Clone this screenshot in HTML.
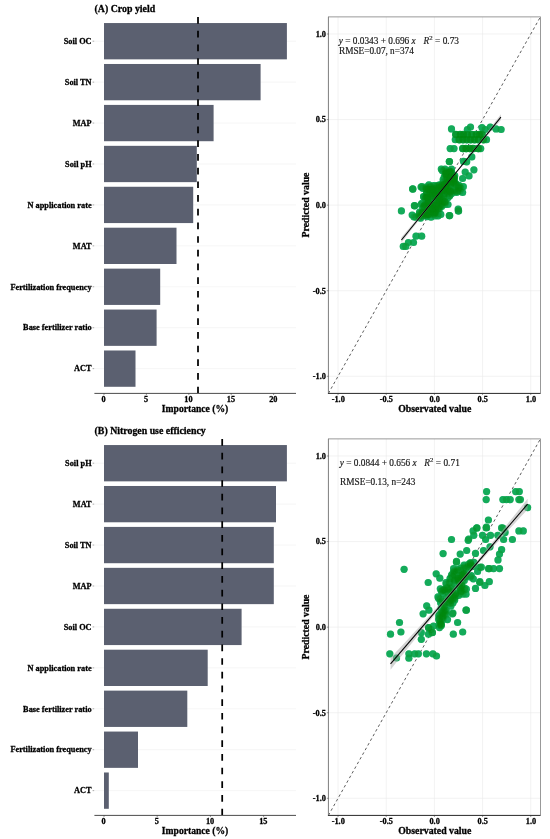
<!DOCTYPE html>
<html lang="en"><head><meta charset="utf-8"><title>Variable importance and model performance</title>
<style>html,body{margin:0;padding:0;background:#fff}svg{display:block}text{font-family:"Liberation Serif", serif}text[font-weight=bold]{stroke:#000;stroke-width:0.28px}text:not([font-weight]){stroke:#1a1a1a;stroke-width:0.18px}</style>
</head><body>
<svg width="550" height="839" viewBox="0 0 550 839" font-family='"Liberation Serif", serif' fill="#000">
<rect width="550" height="839" fill="#fff"/>
<line x1="94.4" x2="296.0" y1="41.20" y2="41.20" stroke="#f0f0f0" stroke-width="0.6"/>
<line x1="94.4" x2="296.0" y1="82.13" y2="82.13" stroke="#f0f0f0" stroke-width="0.6"/>
<line x1="94.4" x2="296.0" y1="123.06" y2="123.06" stroke="#f0f0f0" stroke-width="0.6"/>
<line x1="94.4" x2="296.0" y1="163.99" y2="163.99" stroke="#f0f0f0" stroke-width="0.6"/>
<line x1="94.4" x2="296.0" y1="204.92" y2="204.92" stroke="#f0f0f0" stroke-width="0.6"/>
<line x1="94.4" x2="296.0" y1="245.85" y2="245.85" stroke="#f0f0f0" stroke-width="0.6"/>
<line x1="94.4" x2="296.0" y1="286.78" y2="286.78" stroke="#f0f0f0" stroke-width="0.6"/>
<line x1="94.4" x2="296.0" y1="327.71" y2="327.71" stroke="#f0f0f0" stroke-width="0.6"/>
<line x1="94.4" x2="296.0" y1="368.64" y2="368.64" stroke="#f0f0f0" stroke-width="0.6"/>
<rect x="104.0" y="23.05" width="182.90" height="36.3" fill="#5b6070"/>
<line x1="92.6" x2="94.2" y1="41.20" y2="41.20" stroke="#555" stroke-width="0.5"/>
<text x="91.6" y="43.95" text-anchor="end" font-size="8.3" font-weight="bold">Soil OC</text>
<rect x="104.0" y="63.98" width="156.60" height="36.3" fill="#5b6070"/>
<line x1="92.6" x2="94.2" y1="82.13" y2="82.13" stroke="#555" stroke-width="0.5"/>
<text x="91.6" y="84.88" text-anchor="end" font-size="8.3" font-weight="bold">Soil TN</text>
<rect x="104.0" y="104.91" width="109.60" height="36.3" fill="#5b6070"/>
<line x1="92.6" x2="94.2" y1="123.06" y2="123.06" stroke="#555" stroke-width="0.5"/>
<text x="91.6" y="125.81" text-anchor="end" font-size="8.3" font-weight="bold">MAP</text>
<rect x="104.0" y="145.84" width="92.80" height="36.3" fill="#5b6070"/>
<line x1="92.6" x2="94.2" y1="163.99" y2="163.99" stroke="#555" stroke-width="0.5"/>
<text x="91.6" y="166.74" text-anchor="end" font-size="8.3" font-weight="bold">Soil pH</text>
<rect x="104.0" y="186.77" width="89.20" height="36.3" fill="#5b6070"/>
<line x1="92.6" x2="94.2" y1="204.92" y2="204.92" stroke="#555" stroke-width="0.5"/>
<text x="91.6" y="207.67" text-anchor="end" font-size="8.3" font-weight="bold">N application rate</text>
<rect x="104.0" y="227.70" width="72.50" height="36.3" fill="#5b6070"/>
<line x1="92.6" x2="94.2" y1="245.85" y2="245.85" stroke="#555" stroke-width="0.5"/>
<text x="91.6" y="248.60" text-anchor="end" font-size="8.3" font-weight="bold">MAT</text>
<rect x="104.0" y="268.63" width="56.20" height="36.3" fill="#5b6070"/>
<line x1="92.6" x2="94.2" y1="286.78" y2="286.78" stroke="#555" stroke-width="0.5"/>
<text x="91.6" y="289.53" text-anchor="end" font-size="8.3" font-weight="bold">Fertilization frequency</text>
<rect x="104.0" y="309.56" width="52.60" height="36.3" fill="#5b6070"/>
<line x1="92.6" x2="94.2" y1="327.71" y2="327.71" stroke="#555" stroke-width="0.5"/>
<text x="91.6" y="330.46" text-anchor="end" font-size="8.3" font-weight="bold">Base fertilizer ratio</text>
<rect x="104.0" y="350.49" width="31.50" height="36.3" fill="#5b6070"/>
<line x1="92.6" x2="94.2" y1="368.64" y2="368.64" stroke="#555" stroke-width="0.5"/>
<text x="91.6" y="371.39" text-anchor="end" font-size="8.3" font-weight="bold">ACT</text>
<line x1="198.0" x2="198.0" y1="17.10" y2="393.00" stroke="#000" stroke-width="1.75" stroke-dasharray="6.7 6.99"/>
<line x1="94.4" x2="296.0" y1="393.4" y2="393.4" stroke="#383838" stroke-width="0.9"/>
<line x1="104.00" x2="104.00" y1="393.4" y2="395.0" stroke="#333" stroke-width="0.5"/>
<text x="103.70" y="402.0" text-anchor="middle" font-size="8.3" font-weight="bold">0</text>
<line x1="146.40" x2="146.40" y1="393.4" y2="395.0" stroke="#333" stroke-width="0.5"/>
<text x="146.10" y="402.0" text-anchor="middle" font-size="8.3" font-weight="bold">5</text>
<line x1="188.80" x2="188.80" y1="393.4" y2="395.0" stroke="#333" stroke-width="0.5"/>
<text x="188.50" y="402.0" text-anchor="middle" font-size="8.3" font-weight="bold">10</text>
<line x1="231.20" x2="231.20" y1="393.4" y2="395.0" stroke="#333" stroke-width="0.5"/>
<text x="230.90" y="402.0" text-anchor="middle" font-size="8.3" font-weight="bold">15</text>
<line x1="273.60" x2="273.60" y1="393.4" y2="395.0" stroke="#333" stroke-width="0.5"/>
<text x="273.30" y="402.0" text-anchor="middle" font-size="8.3" font-weight="bold">20</text>
<text x="195" y="411.6" text-anchor="middle" font-size="9.6" font-weight="bold">Importance (%)</text>
<text x="94.6" y="12" font-size="9.85" font-weight="bold">(A) Crop yield</text>
<line x1="94.4" x2="296.0" y1="463.20" y2="463.20" stroke="#f0f0f0" stroke-width="0.6"/>
<line x1="94.4" x2="296.0" y1="504.13" y2="504.13" stroke="#f0f0f0" stroke-width="0.6"/>
<line x1="94.4" x2="296.0" y1="545.06" y2="545.06" stroke="#f0f0f0" stroke-width="0.6"/>
<line x1="94.4" x2="296.0" y1="585.99" y2="585.99" stroke="#f0f0f0" stroke-width="0.6"/>
<line x1="94.4" x2="296.0" y1="626.92" y2="626.92" stroke="#f0f0f0" stroke-width="0.6"/>
<line x1="94.4" x2="296.0" y1="667.85" y2="667.85" stroke="#f0f0f0" stroke-width="0.6"/>
<line x1="94.4" x2="296.0" y1="708.78" y2="708.78" stroke="#f0f0f0" stroke-width="0.6"/>
<line x1="94.4" x2="296.0" y1="749.71" y2="749.71" stroke="#f0f0f0" stroke-width="0.6"/>
<line x1="94.4" x2="296.0" y1="790.64" y2="790.64" stroke="#f0f0f0" stroke-width="0.6"/>
<rect x="104.0" y="445.05" width="182.90" height="36.3" fill="#5b6070"/>
<line x1="92.6" x2="94.2" y1="463.20" y2="463.20" stroke="#555" stroke-width="0.5"/>
<text x="91.6" y="465.95" text-anchor="end" font-size="8.3" font-weight="bold">Soil pH</text>
<rect x="104.0" y="485.98" width="172.00" height="36.3" fill="#5b6070"/>
<line x1="92.6" x2="94.2" y1="504.13" y2="504.13" stroke="#555" stroke-width="0.5"/>
<text x="91.6" y="506.88" text-anchor="end" font-size="8.3" font-weight="bold">MAT</text>
<rect x="104.0" y="526.91" width="169.80" height="36.3" fill="#5b6070"/>
<line x1="92.6" x2="94.2" y1="545.06" y2="545.06" stroke="#555" stroke-width="0.5"/>
<text x="91.6" y="547.81" text-anchor="end" font-size="8.3" font-weight="bold">Soil TN</text>
<rect x="104.0" y="567.84" width="169.80" height="36.3" fill="#5b6070"/>
<line x1="92.6" x2="94.2" y1="585.99" y2="585.99" stroke="#555" stroke-width="0.5"/>
<text x="91.6" y="588.74" text-anchor="end" font-size="8.3" font-weight="bold">MAP</text>
<rect x="104.0" y="608.77" width="137.60" height="36.3" fill="#5b6070"/>
<line x1="92.6" x2="94.2" y1="626.92" y2="626.92" stroke="#555" stroke-width="0.5"/>
<text x="91.6" y="629.67" text-anchor="end" font-size="8.3" font-weight="bold">Soil OC</text>
<rect x="104.0" y="649.70" width="103.70" height="36.3" fill="#5b6070"/>
<line x1="92.6" x2="94.2" y1="667.85" y2="667.85" stroke="#555" stroke-width="0.5"/>
<text x="91.6" y="670.60" text-anchor="end" font-size="8.3" font-weight="bold">N application rate</text>
<rect x="104.0" y="690.63" width="83.30" height="36.3" fill="#5b6070"/>
<line x1="92.6" x2="94.2" y1="708.78" y2="708.78" stroke="#555" stroke-width="0.5"/>
<text x="91.6" y="711.53" text-anchor="end" font-size="8.3" font-weight="bold">Base fertilizer ratio</text>
<rect x="104.0" y="731.56" width="34.00" height="36.3" fill="#5b6070"/>
<line x1="92.6" x2="94.2" y1="749.71" y2="749.71" stroke="#555" stroke-width="0.5"/>
<text x="91.6" y="752.46" text-anchor="end" font-size="8.3" font-weight="bold">Fertilization frequency</text>
<rect x="104.0" y="772.49" width="4.80" height="36.3" fill="#5b6070"/>
<line x1="92.6" x2="94.2" y1="790.64" y2="790.64" stroke="#555" stroke-width="0.5"/>
<text x="91.6" y="793.39" text-anchor="end" font-size="8.3" font-weight="bold">ACT</text>
<line x1="222.2" x2="222.2" y1="439.10" y2="815.00" stroke="#000" stroke-width="1.75" stroke-dasharray="6.7 6.99"/>
<line x1="94.4" x2="296.0" y1="815.4" y2="815.4" stroke="#383838" stroke-width="0.9"/>
<line x1="104.00" x2="104.00" y1="815.4" y2="817.0" stroke="#333" stroke-width="0.5"/>
<text x="103.70" y="824.0" text-anchor="middle" font-size="8.3" font-weight="bold">0</text>
<line x1="157.20" x2="157.20" y1="815.4" y2="817.0" stroke="#333" stroke-width="0.5"/>
<text x="156.90" y="824.0" text-anchor="middle" font-size="8.3" font-weight="bold">5</text>
<line x1="210.40" x2="210.40" y1="815.4" y2="817.0" stroke="#333" stroke-width="0.5"/>
<text x="210.10" y="824.0" text-anchor="middle" font-size="8.3" font-weight="bold">10</text>
<line x1="263.60" x2="263.60" y1="815.4" y2="817.0" stroke="#333" stroke-width="0.5"/>
<text x="263.30" y="824.0" text-anchor="middle" font-size="8.3" font-weight="bold">15</text>
<text x="195" y="833.6" text-anchor="middle" font-size="9.6" font-weight="bold">Importance (%)</text>
<text x="94.6" y="434.0" font-size="9.85" font-weight="bold">(B) Nitrogen use efficiency</text>
<rect x="328.4" y="16.9" width="212.0" height="376.5" fill="#fff" stroke="none"/>
<line x1="338.04" x2="338.04" y1="16.9" y2="393.4" stroke="#e9e9e9" stroke-width="0.6"/>
<line x1="328.4" x2="540.4" y1="376.29" y2="376.29" stroke="#e9e9e9" stroke-width="0.6"/>
<line x1="386.22" x2="386.22" y1="16.9" y2="393.4" stroke="#e9e9e9" stroke-width="0.6"/>
<line x1="328.4" x2="540.4" y1="290.72" y2="290.72" stroke="#e9e9e9" stroke-width="0.6"/>
<line x1="434.40" x2="434.40" y1="16.9" y2="393.4" stroke="#e9e9e9" stroke-width="0.6"/>
<line x1="328.4" x2="540.4" y1="205.15" y2="205.15" stroke="#e9e9e9" stroke-width="0.6"/>
<line x1="482.58" x2="482.58" y1="16.9" y2="393.4" stroke="#e9e9e9" stroke-width="0.6"/>
<line x1="328.4" x2="540.4" y1="119.58" y2="119.58" stroke="#e9e9e9" stroke-width="0.6"/>
<line x1="530.76" x2="530.76" y1="16.9" y2="393.4" stroke="#e9e9e9" stroke-width="0.6"/>
<line x1="328.4" x2="540.4" y1="34.01" y2="34.01" stroke="#e9e9e9" stroke-width="0.6"/>
<line x1="328.4" y1="393.4" x2="540.4" y2="16.9" stroke="#333" stroke-width="0.8" stroke-dasharray="2.7 2.65"/>
<g fill="#1eba7c">
<circle cx="451.5" cy="128.9" r="3.6"/>
<circle cx="467.4" cy="129.5" r="3.6"/>
<circle cx="470.5" cy="127.0" r="3.6"/>
<circle cx="482.0" cy="127.6" r="3.6"/>
<circle cx="485.2" cy="129.5" r="3.6"/>
<circle cx="490.3" cy="127.0" r="3.6"/>
<circle cx="496.0" cy="128.9" r="3.6"/>
<circle cx="501.1" cy="129.5" r="3.6"/>
<circle cx="455.9" cy="134.6" r="3.6"/>
<circle cx="460.4" cy="134.6" r="3.6"/>
<circle cx="463.5" cy="134.6" r="3.6"/>
<circle cx="467.4" cy="134.6" r="3.6"/>
<circle cx="471.8" cy="134.6" r="3.6"/>
<circle cx="476.3" cy="134.6" r="3.6"/>
<circle cx="479.5" cy="134.6" r="3.6"/>
<circle cx="482.0" cy="134.6" r="3.6"/>
<circle cx="455.3" cy="139.7" r="3.6"/>
<circle cx="459.1" cy="139.7" r="3.6"/>
<circle cx="462.9" cy="139.7" r="3.6"/>
<circle cx="466.7" cy="139.7" r="3.6"/>
<circle cx="470.5" cy="139.7" r="3.6"/>
<circle cx="474.4" cy="139.7" r="3.6"/>
<circle cx="478.2" cy="139.7" r="3.6"/>
<circle cx="483.3" cy="139.7" r="3.6"/>
<circle cx="486.5" cy="139.7" r="3.6"/>
<circle cx="450.2" cy="148.6" r="3.6"/>
<circle cx="454.0" cy="148.6" r="3.6"/>
<circle cx="462.9" cy="148.6" r="3.6"/>
<circle cx="466.1" cy="148.6" r="3.6"/>
<circle cx="469.9" cy="148.6" r="3.6"/>
<circle cx="473.1" cy="148.6" r="3.6"/>
<circle cx="478.2" cy="148.6" r="3.6"/>
<circle cx="480.7" cy="148.6" r="3.6"/>
<circle cx="456.2" cy="134.7" r="3.6"/>
<circle cx="455.7" cy="134.4" r="3.6"/>
<circle cx="460.7" cy="134.7" r="3.6"/>
<circle cx="460.2" cy="134.4" r="3.6"/>
<circle cx="463.8" cy="134.7" r="3.6"/>
<circle cx="463.3" cy="134.4" r="3.6"/>
<circle cx="467.7" cy="134.7" r="3.6"/>
<circle cx="467.2" cy="134.4" r="3.6"/>
<circle cx="472.1" cy="134.7" r="3.6"/>
<circle cx="471.6" cy="134.4" r="3.6"/>
<circle cx="476.6" cy="134.7" r="3.6"/>
<circle cx="476.1" cy="134.4" r="3.6"/>
<circle cx="479.8" cy="134.7" r="3.6"/>
<circle cx="479.3" cy="134.4" r="3.6"/>
<circle cx="482.3" cy="134.7" r="3.6"/>
<circle cx="481.8" cy="134.4" r="3.6"/>
<circle cx="459.4" cy="139.8" r="3.6"/>
<circle cx="458.9" cy="139.5" r="3.6"/>
<circle cx="463.2" cy="139.8" r="3.6"/>
<circle cx="462.7" cy="139.5" r="3.6"/>
<circle cx="467.0" cy="139.8" r="3.6"/>
<circle cx="466.5" cy="139.5" r="3.6"/>
<circle cx="470.8" cy="139.8" r="3.6"/>
<circle cx="470.3" cy="139.5" r="3.6"/>
<circle cx="474.7" cy="139.8" r="3.6"/>
<circle cx="474.2" cy="139.5" r="3.6"/>
<circle cx="478.5" cy="139.8" r="3.6"/>
<circle cx="478.0" cy="139.5" r="3.6"/>
<circle cx="483.6" cy="139.8" r="3.6"/>
<circle cx="483.1" cy="139.5" r="3.6"/>
<circle cx="463.2" cy="148.7" r="3.6"/>
<circle cx="462.7" cy="148.4" r="3.6"/>
<circle cx="466.4" cy="148.7" r="3.6"/>
<circle cx="465.9" cy="148.4" r="3.6"/>
<circle cx="470.2" cy="148.7" r="3.6"/>
<circle cx="469.7" cy="148.4" r="3.6"/>
<circle cx="473.4" cy="148.7" r="3.6"/>
<circle cx="472.9" cy="148.4" r="3.6"/>
<circle cx="478.5" cy="148.7" r="3.6"/>
<circle cx="478.0" cy="148.4" r="3.6"/>
<circle cx="471.8" cy="156.9" r="3.6"/>
<circle cx="449.5" cy="161.6" r="3.6"/>
<circle cx="463.5" cy="161.4" r="3.6"/>
<circle cx="466.7" cy="161.8" r="3.6"/>
<circle cx="441.3" cy="169.0" r="3.6"/>
<circle cx="445.0" cy="169.0" r="3.6"/>
<circle cx="451.5" cy="169.0" r="3.6"/>
<circle cx="473.9" cy="169.8" r="3.6"/>
<circle cx="469.0" cy="175.9" r="3.6"/>
<circle cx="462.6" cy="178.5" r="3.6"/>
<circle cx="465.2" cy="172.1" r="3.6"/>
<circle cx="463.3" cy="186.7" r="3.6"/>
<circle cx="462.6" cy="192.5" r="3.6"/>
<circle cx="458.2" cy="209.0" r="3.6"/>
<circle cx="401.4" cy="210.9" r="3.6"/>
<circle cx="412.8" cy="189.2" r="3.6"/>
<circle cx="414.7" cy="205.8" r="3.6"/>
<circle cx="412.2" cy="215.0" r="3.6"/>
<circle cx="421.1" cy="187.0" r="3.6"/>
<circle cx="449.7" cy="215.6" r="3.6"/>
<circle cx="458.3" cy="210.9" r="3.6"/>
<circle cx="440.8" cy="214.4" r="3.6"/>
<circle cx="423.6" cy="196.5" r="3.6"/>
<circle cx="414.0" cy="217.0" r="3.6"/>
<circle cx="420.5" cy="218.2" r="3.6"/>
<circle cx="416.0" cy="236.2" r="3.6"/>
<circle cx="421.7" cy="236.2" r="3.6"/>
<circle cx="408.4" cy="242.5" r="3.6"/>
<circle cx="413.5" cy="242.5" r="3.6"/>
<circle cx="403.3" cy="246.4" r="3.6"/>
<circle cx="405.8" cy="246.4" r="3.6"/>
<circle cx="421.9" cy="186.7" r="3.6"/>
<circle cx="428.9" cy="184.8" r="3.6"/>
<circle cx="423.8" cy="196.9" r="3.6"/>
<circle cx="427.6" cy="198.2" r="3.6"/>
<circle cx="421.9" cy="203.3" r="3.6"/>
<circle cx="416.0" cy="217.2" r="3.6"/>
<circle cx="419.0" cy="217.2" r="3.6"/>
<circle cx="423.0" cy="216.0" r="3.6"/>
<circle cx="427.0" cy="216.6" r="3.6"/>
<circle cx="431.0" cy="217.2" r="3.6"/>
<circle cx="435.0" cy="216.0" r="3.6"/>
<circle cx="438.0" cy="216.0" r="3.6"/>
<circle cx="421.0" cy="204.5" r="3.6"/>
<circle cx="425.0" cy="204.5" r="3.6"/>
<circle cx="429.0" cy="204.5" r="3.6"/>
<circle cx="433.0" cy="204.5" r="3.6"/>
<circle cx="437.0" cy="204.5" r="3.6"/>
<circle cx="441.0" cy="204.5" r="3.6"/>
<circle cx="445.0" cy="204.5" r="3.6"/>
<circle cx="448.0" cy="204.5" r="3.6"/>
<circle cx="446.0" cy="173.4" r="3.6"/>
<circle cx="440.7" cy="187.0" r="3.6"/>
<circle cx="435.6" cy="208.4" r="3.6"/>
<circle cx="442.6" cy="188.4" r="3.6"/>
<circle cx="455.6" cy="183.4" r="3.6"/>
<circle cx="430.3" cy="207.9" r="3.6"/>
<circle cx="445.5" cy="187.3" r="3.6"/>
<circle cx="447.4" cy="189.8" r="3.6"/>
<circle cx="430.5" cy="197.2" r="3.6"/>
<circle cx="427.3" cy="196.7" r="3.6"/>
<circle cx="449.7" cy="183.4" r="3.6"/>
<circle cx="435.3" cy="205.1" r="3.6"/>
<circle cx="456.4" cy="184.6" r="3.6"/>
<circle cx="448.1" cy="197.6" r="3.6"/>
<circle cx="442.8" cy="191.2" r="3.6"/>
<circle cx="437.9" cy="200.8" r="3.6"/>
<circle cx="453.9" cy="183.2" r="3.6"/>
<circle cx="433.8" cy="201.0" r="3.6"/>
<circle cx="434.1" cy="210.4" r="3.6"/>
<circle cx="428.9" cy="189.3" r="3.6"/>
<circle cx="432.6" cy="211.0" r="3.6"/>
<circle cx="426.8" cy="192.5" r="3.6"/>
<circle cx="443.2" cy="182.2" r="3.6"/>
<circle cx="433.1" cy="196.3" r="3.6"/>
<circle cx="439.8" cy="198.7" r="3.6"/>
<circle cx="447.2" cy="172.5" r="3.6"/>
<circle cx="434.1" cy="188.5" r="3.6"/>
<circle cx="444.3" cy="176.9" r="3.6"/>
<circle cx="437.5" cy="192.5" r="3.6"/>
<circle cx="454.2" cy="177.5" r="3.6"/>
<circle cx="428.1" cy="187.0" r="3.6"/>
<circle cx="423.8" cy="205.8" r="3.6"/>
<circle cx="440.6" cy="206.1" r="3.6"/>
<circle cx="426.5" cy="194.0" r="3.6"/>
<circle cx="428.0" cy="202.1" r="3.6"/>
<circle cx="460.1" cy="190.8" r="3.6"/>
<circle cx="460.1" cy="186.9" r="3.6"/>
<circle cx="454.8" cy="192.2" r="3.6"/>
<circle cx="450.6" cy="192.2" r="3.6"/>
<circle cx="424.3" cy="206.6" r="3.6"/>
<circle cx="431.4" cy="207.1" r="3.6"/>
<circle cx="460.8" cy="188.4" r="3.6"/>
<circle cx="434.5" cy="213.9" r="3.6"/>
<circle cx="449.4" cy="177.9" r="3.6"/>
<circle cx="422.8" cy="208.3" r="3.6"/>
<circle cx="432.2" cy="195.5" r="3.6"/>
<circle cx="436.0" cy="210.4" r="3.6"/>
<circle cx="454.1" cy="179.8" r="3.6"/>
<circle cx="427.1" cy="197.2" r="3.6"/>
<circle cx="428.0" cy="189.4" r="3.6"/>
<circle cx="422.1" cy="212.2" r="3.6"/>
<circle cx="432.4" cy="191.3" r="3.6"/>
<circle cx="435.4" cy="212.6" r="3.6"/>
<circle cx="439.2" cy="194.7" r="3.6"/>
<circle cx="449.5" cy="195.8" r="3.6"/>
<circle cx="431.1" cy="194.1" r="3.6"/>
<circle cx="441.6" cy="206.4" r="3.6"/>
<circle cx="451.6" cy="193.6" r="3.6"/>
<circle cx="441.9" cy="205.3" r="3.6"/>
<circle cx="458.1" cy="190.6" r="3.6"/>
<circle cx="444.3" cy="193.5" r="3.6"/>
<circle cx="439.7" cy="202.1" r="3.6"/>
<circle cx="436.9" cy="194.7" r="3.6"/>
<circle cx="438.1" cy="213.7" r="3.6"/>
<circle cx="446.5" cy="176.6" r="3.6"/>
<circle cx="426.2" cy="214.2" r="3.6"/>
<circle cx="434.4" cy="192.6" r="3.6"/>
<circle cx="439.8" cy="185.7" r="3.6"/>
<circle cx="449.3" cy="170.9" r="3.6"/>
<circle cx="441.6" cy="190.4" r="3.6"/>
<circle cx="444.8" cy="193.8" r="3.6"/>
<circle cx="419.0" cy="215.7" r="3.6"/>
<circle cx="435.5" cy="212.3" r="3.6"/>
<circle cx="453.8" cy="182.0" r="3.6"/>
<circle cx="422.9" cy="212.6" r="3.6"/>
<circle cx="442.3" cy="202.5" r="3.6"/>
<circle cx="447.8" cy="189.7" r="3.6"/>
<circle cx="419.4" cy="213.5" r="3.6"/>
<circle cx="437.0" cy="185.7" r="3.6"/>
<circle cx="451.0" cy="183.5" r="3.6"/>
<circle cx="449.8" cy="195.6" r="3.6"/>
<circle cx="453.8" cy="190.1" r="3.6"/>
<circle cx="438.9" cy="208.7" r="3.6"/>
<circle cx="434.2" cy="193.5" r="3.6"/>
<circle cx="431.8" cy="208.6" r="3.6"/>
<circle cx="434.7" cy="186.1" r="3.6"/>
<circle cx="429.6" cy="191.3" r="3.6"/>
<circle cx="428.2" cy="214.6" r="3.6"/>
<circle cx="427.3" cy="214.8" r="3.6"/>
<circle cx="430.3" cy="186.6" r="3.6"/>
<circle cx="437.9" cy="193.3" r="3.6"/>
<circle cx="443.0" cy="194.6" r="3.6"/>
<circle cx="439.3" cy="208.7" r="3.6"/>
<circle cx="441.8" cy="199.1" r="3.6"/>
<circle cx="444.9" cy="201.6" r="3.6"/>
<circle cx="439.2" cy="194.8" r="3.6"/>
<circle cx="446.4" cy="173.1" r="3.6"/>
<circle cx="450.0" cy="181.7" r="3.6"/>
<circle cx="449.7" cy="179.5" r="3.6"/>
<circle cx="438.8" cy="187.8" r="3.6"/>
<circle cx="438.1" cy="201.7" r="3.6"/>
<circle cx="445.7" cy="173.6" r="3.6"/>
<circle cx="450.3" cy="184.1" r="3.6"/>
<circle cx="442.2" cy="170.6" r="3.6"/>
<circle cx="447.2" cy="183.5" r="3.6"/>
<circle cx="439.9" cy="191.6" r="3.6"/>
<circle cx="425.7" cy="213.9" r="3.6"/>
<circle cx="425.8" cy="197.0" r="3.6"/>
<circle cx="426.7" cy="211.6" r="3.6"/>
<circle cx="430.6" cy="209.0" r="3.6"/>
<circle cx="433.2" cy="188.2" r="3.6"/>
<circle cx="432.7" cy="189.9" r="3.6"/>
<circle cx="429.2" cy="213.4" r="3.6"/>
<circle cx="433.3" cy="214.3" r="3.6"/>
<circle cx="449.2" cy="172.3" r="3.6"/>
<circle cx="449.8" cy="190.9" r="3.6"/>
<circle cx="437.8" cy="186.0" r="3.6"/>
<circle cx="429.8" cy="204.3" r="3.6"/>
<circle cx="446.3" cy="184.0" r="3.6"/>
<circle cx="441.7" cy="188.3" r="3.6"/>
<circle cx="425.6" cy="212.0" r="3.6"/>
<circle cx="450.6" cy="189.2" r="3.6"/>
<circle cx="435.1" cy="194.3" r="3.6"/>
<circle cx="433.4" cy="185.7" r="3.6"/>
<circle cx="439.2" cy="199.2" r="3.6"/>
<circle cx="434.5" cy="190.7" r="3.6"/>
<circle cx="457.3" cy="192.0" r="3.6"/>
<circle cx="434.1" cy="213.0" r="3.6"/>
<circle cx="440.1" cy="201.6" r="3.6"/>
<circle cx="437.1" cy="195.6" r="3.6"/>
<circle cx="426.8" cy="212.7" r="3.6"/>
<circle cx="445.8" cy="184.1" r="3.6"/>
<circle cx="445.4" cy="202.4" r="3.6"/>
<circle cx="440.2" cy="197.0" r="3.6"/>
<circle cx="443.7" cy="170.5" r="3.6"/>
<circle cx="429.9" cy="191.4" r="3.6"/>
<circle cx="456.8" cy="192.1" r="3.6"/>
<circle cx="439.0" cy="201.3" r="3.6"/>
<circle cx="431.6" cy="189.5" r="3.6"/>
<circle cx="447.5" cy="179.2" r="3.6"/>
<circle cx="453.8" cy="180.7" r="3.6"/>
<circle cx="426.3" cy="205.3" r="3.6"/>
<circle cx="429.6" cy="214.2" r="3.6"/>
<circle cx="426.3" cy="189.4" r="3.6"/>
<circle cx="422.8" cy="188.3" r="3.6"/>
<circle cx="425.9" cy="215.2" r="3.6"/>
<circle cx="459.0" cy="185.3" r="3.6"/>
<circle cx="424.6" cy="213.4" r="3.6"/>
<circle cx="450.4" cy="171.5" r="3.6"/>
<circle cx="446.7" cy="187.6" r="3.6"/>
<circle cx="432.5" cy="208.1" r="3.6"/>
<circle cx="453.9" cy="190.1" r="3.6"/>
<circle cx="433.2" cy="212.7" r="3.6"/>
<circle cx="435.0" cy="207.7" r="3.6"/>
<circle cx="451.4" cy="171.9" r="3.6"/>
<circle cx="428.1" cy="203.2" r="3.6"/>
<circle cx="426.8" cy="192.1" r="3.6"/>
<circle cx="435.9" cy="192.9" r="3.6"/>
<circle cx="444.0" cy="185.2" r="3.6"/>
<circle cx="430.8" cy="186.8" r="3.6"/>
<circle cx="452.1" cy="173.7" r="3.6"/>
<circle cx="425.1" cy="204.9" r="3.6"/>
<circle cx="448.8" cy="190.7" r="3.6"/>
<circle cx="426.8" cy="189.3" r="3.6"/>
<circle cx="444.6" cy="201.3" r="3.6"/>
<circle cx="446.7" cy="175.6" r="3.6"/>
<circle cx="454.8" cy="183.6" r="3.6"/>
<circle cx="442.2" cy="187.3" r="3.6"/>
<circle cx="450.1" cy="179.3" r="3.6"/>
<circle cx="423.1" cy="211.0" r="3.6"/>
<circle cx="442.7" cy="185.2" r="3.6"/>
<circle cx="437.9" cy="208.0" r="3.6"/>
<circle cx="458.9" cy="187.3" r="3.6"/>
<circle cx="456.0" cy="190.8" r="3.6"/>
<circle cx="428.0" cy="206.1" r="3.6"/>
<circle cx="443.5" cy="198.8" r="3.6"/>
<circle cx="426.1" cy="187.1" r="3.6"/>
<circle cx="427.8" cy="197.8" r="3.6"/>
<circle cx="446.1" cy="179.5" r="3.6"/>
<circle cx="447.3" cy="178.6" r="3.6"/>
<circle cx="434.3" cy="195.5" r="3.6"/>
<circle cx="445.5" cy="174.2" r="3.6"/>
<circle cx="430.2" cy="214.2" r="3.6"/>
<circle cx="430.4" cy="196.3" r="3.6"/>
<circle cx="432.5" cy="189.3" r="3.6"/>
<circle cx="449.6" cy="179.5" r="3.6"/>
<circle cx="435.6" cy="208.1" r="3.6"/>
<circle cx="434.8" cy="211.0" r="3.6"/>
<circle cx="433.1" cy="193.4" r="3.6"/>
<circle cx="458.7" cy="188.0" r="3.6"/>
<circle cx="454.0" cy="177.5" r="3.6"/>
<circle cx="452.3" cy="180.3" r="3.6"/>
<circle cx="434.7" cy="209.3" r="3.6"/>
<circle cx="454.3" cy="178.5" r="3.6"/>
<circle cx="426.1" cy="188.6" r="3.6"/>
<circle cx="439.9" cy="187.8" r="3.6"/>
<circle cx="451.0" cy="171.8" r="3.6"/>
<circle cx="454.7" cy="175.5" r="3.6"/>
<circle cx="443.7" cy="195.5" r="3.6"/>
<circle cx="444.9" cy="184.2" r="3.6"/>
<circle cx="435.4" cy="197.0" r="3.6"/>
<circle cx="435.7" cy="200.6" r="3.6"/>
<circle cx="436.6" cy="190.3" r="3.6"/>
<circle cx="445.4" cy="173.8" r="3.6"/>
<circle cx="439.3" cy="187.5" r="3.6"/>
<circle cx="425.0" cy="215.5" r="3.6"/>
<circle cx="450.9" cy="177.4" r="3.6"/>
<circle cx="453.6" cy="176.7" r="3.6"/>
<circle cx="439.4" cy="184.8" r="3.6"/>
<circle cx="423.5" cy="213.4" r="3.6"/>
<circle cx="423.8" cy="206.4" r="3.6"/>
<circle cx="445.4" cy="186.7" r="3.6"/>
<circle cx="420.9" cy="216.1" r="3.6"/>
<circle cx="445.1" cy="188.3" r="3.6"/>
<circle cx="452.8" cy="182.3" r="3.6"/>
<circle cx="432.7" cy="205.5" r="3.6"/>
<circle cx="450.3" cy="172.3" r="3.6"/>
<circle cx="453.8" cy="181.8" r="3.6"/>
<circle cx="443.0" cy="200.8" r="3.6"/>
<circle cx="444.4" cy="190.1" r="3.6"/>
<circle cx="446.1" cy="171.1" r="3.6"/>
<circle cx="426.4" cy="197.1" r="3.6"/>
<circle cx="443.2" cy="179.5" r="3.6"/>
<circle cx="444.8" cy="192.0" r="3.6"/>
<circle cx="422.3" cy="213.4" r="3.6"/>
<circle cx="442.0" cy="186.3" r="3.6"/>
<circle cx="445.8" cy="190.6" r="3.6"/>
<circle cx="427.5" cy="211.9" r="3.6"/>
<circle cx="425.2" cy="198.2" r="3.6"/>
<circle cx="439.4" cy="199.8" r="3.6"/>
<circle cx="453.5" cy="178.1" r="3.6"/>
<circle cx="450.4" cy="191.6" r="3.6"/>
<circle cx="450.2" cy="191.0" r="3.6"/>
<circle cx="431.5" cy="204.8" r="3.6"/>
<circle cx="448.8" cy="182.4" r="3.6"/>
<circle cx="441.6" cy="190.2" r="3.6"/>
<circle cx="428.3" cy="199.8" r="3.6"/>
<circle cx="450.4" cy="185.2" r="3.6"/>
<circle cx="456.6" cy="185.3" r="3.6"/>
<circle cx="427.1" cy="212.1" r="3.6"/>
<circle cx="445.1" cy="202.1" r="3.6"/>
<circle cx="437.7" cy="209.0" r="3.6"/>
<circle cx="436.2" cy="203.6" r="3.6"/>
<circle cx="442.3" cy="184.3" r="3.6"/>
<circle cx="425.8" cy="198.9" r="3.6"/>
<circle cx="419.6" cy="212.2" r="3.6"/>
<circle cx="421.0" cy="213.1" r="3.6"/>
<circle cx="432.8" cy="207.9" r="3.6"/>
<circle cx="445.2" cy="183.3" r="3.6"/>
<circle cx="450.9" cy="179.5" r="3.6"/>
<circle cx="430.8" cy="189.7" r="3.6"/>
<circle cx="429.1" cy="203.2" r="3.6"/>
<circle cx="436.2" cy="205.9" r="3.6"/>
<circle cx="432.0" cy="202.7" r="3.6"/>
<circle cx="453.8" cy="177.9" r="3.6"/>
<circle cx="438.7" cy="207.0" r="3.6"/>
<circle cx="432.1" cy="208.6" r="3.6"/>
<circle cx="428.1" cy="213.8" r="3.6"/>
<circle cx="448.3" cy="193.1" r="3.6"/>
<circle cx="445.0" cy="186.5" r="3.6"/>
<circle cx="412.7" cy="188.8" r="3.6"/>
<circle cx="414.4" cy="205.7" r="3.6"/>
<circle cx="458.6" cy="210.9" r="3.6"/>
<circle cx="449.3" cy="215.6" r="3.6"/>
<circle cx="449.3" cy="161.5" r="3.6"/>
</g>
<g fill="#00880c" fill-opacity="0.3">
<circle cx="451.5" cy="128.9" r="3.6"/>
<circle cx="467.4" cy="129.5" r="3.6"/>
<circle cx="470.5" cy="127.0" r="3.6"/>
<circle cx="482.0" cy="127.6" r="3.6"/>
<circle cx="485.2" cy="129.5" r="3.6"/>
<circle cx="490.3" cy="127.0" r="3.6"/>
<circle cx="496.0" cy="128.9" r="3.6"/>
<circle cx="501.1" cy="129.5" r="3.6"/>
<circle cx="455.9" cy="134.6" r="3.6"/>
<circle cx="460.4" cy="134.6" r="3.6"/>
<circle cx="463.5" cy="134.6" r="3.6"/>
<circle cx="467.4" cy="134.6" r="3.6"/>
<circle cx="471.8" cy="134.6" r="3.6"/>
<circle cx="476.3" cy="134.6" r="3.6"/>
<circle cx="479.5" cy="134.6" r="3.6"/>
<circle cx="482.0" cy="134.6" r="3.6"/>
<circle cx="455.3" cy="139.7" r="3.6"/>
<circle cx="459.1" cy="139.7" r="3.6"/>
<circle cx="462.9" cy="139.7" r="3.6"/>
<circle cx="466.7" cy="139.7" r="3.6"/>
<circle cx="470.5" cy="139.7" r="3.6"/>
<circle cx="474.4" cy="139.7" r="3.6"/>
<circle cx="478.2" cy="139.7" r="3.6"/>
<circle cx="483.3" cy="139.7" r="3.6"/>
<circle cx="486.5" cy="139.7" r="3.6"/>
<circle cx="450.2" cy="148.6" r="3.6"/>
<circle cx="454.0" cy="148.6" r="3.6"/>
<circle cx="462.9" cy="148.6" r="3.6"/>
<circle cx="466.1" cy="148.6" r="3.6"/>
<circle cx="469.9" cy="148.6" r="3.6"/>
<circle cx="473.1" cy="148.6" r="3.6"/>
<circle cx="478.2" cy="148.6" r="3.6"/>
<circle cx="480.7" cy="148.6" r="3.6"/>
<circle cx="456.2" cy="134.7" r="3.6"/>
<circle cx="455.7" cy="134.4" r="3.6"/>
<circle cx="460.7" cy="134.7" r="3.6"/>
<circle cx="460.2" cy="134.4" r="3.6"/>
<circle cx="463.8" cy="134.7" r="3.6"/>
<circle cx="463.3" cy="134.4" r="3.6"/>
<circle cx="467.7" cy="134.7" r="3.6"/>
<circle cx="467.2" cy="134.4" r="3.6"/>
<circle cx="472.1" cy="134.7" r="3.6"/>
<circle cx="471.6" cy="134.4" r="3.6"/>
<circle cx="476.6" cy="134.7" r="3.6"/>
<circle cx="476.1" cy="134.4" r="3.6"/>
<circle cx="479.8" cy="134.7" r="3.6"/>
<circle cx="479.3" cy="134.4" r="3.6"/>
<circle cx="482.3" cy="134.7" r="3.6"/>
<circle cx="481.8" cy="134.4" r="3.6"/>
<circle cx="459.4" cy="139.8" r="3.6"/>
<circle cx="458.9" cy="139.5" r="3.6"/>
<circle cx="463.2" cy="139.8" r="3.6"/>
<circle cx="462.7" cy="139.5" r="3.6"/>
<circle cx="467.0" cy="139.8" r="3.6"/>
<circle cx="466.5" cy="139.5" r="3.6"/>
<circle cx="470.8" cy="139.8" r="3.6"/>
<circle cx="470.3" cy="139.5" r="3.6"/>
<circle cx="474.7" cy="139.8" r="3.6"/>
<circle cx="474.2" cy="139.5" r="3.6"/>
<circle cx="478.5" cy="139.8" r="3.6"/>
<circle cx="478.0" cy="139.5" r="3.6"/>
<circle cx="483.6" cy="139.8" r="3.6"/>
<circle cx="483.1" cy="139.5" r="3.6"/>
<circle cx="463.2" cy="148.7" r="3.6"/>
<circle cx="462.7" cy="148.4" r="3.6"/>
<circle cx="466.4" cy="148.7" r="3.6"/>
<circle cx="465.9" cy="148.4" r="3.6"/>
<circle cx="470.2" cy="148.7" r="3.6"/>
<circle cx="469.7" cy="148.4" r="3.6"/>
<circle cx="473.4" cy="148.7" r="3.6"/>
<circle cx="472.9" cy="148.4" r="3.6"/>
<circle cx="478.5" cy="148.7" r="3.6"/>
<circle cx="478.0" cy="148.4" r="3.6"/>
<circle cx="471.8" cy="156.9" r="3.6"/>
<circle cx="449.5" cy="161.6" r="3.6"/>
<circle cx="463.5" cy="161.4" r="3.6"/>
<circle cx="466.7" cy="161.8" r="3.6"/>
<circle cx="441.3" cy="169.0" r="3.6"/>
<circle cx="445.0" cy="169.0" r="3.6"/>
<circle cx="451.5" cy="169.0" r="3.6"/>
<circle cx="473.9" cy="169.8" r="3.6"/>
<circle cx="469.0" cy="175.9" r="3.6"/>
<circle cx="462.6" cy="178.5" r="3.6"/>
<circle cx="465.2" cy="172.1" r="3.6"/>
<circle cx="463.3" cy="186.7" r="3.6"/>
<circle cx="462.6" cy="192.5" r="3.6"/>
<circle cx="458.2" cy="209.0" r="3.6"/>
<circle cx="401.4" cy="210.9" r="3.6"/>
<circle cx="412.8" cy="189.2" r="3.6"/>
<circle cx="414.7" cy="205.8" r="3.6"/>
<circle cx="412.2" cy="215.0" r="3.6"/>
<circle cx="421.1" cy="187.0" r="3.6"/>
<circle cx="449.7" cy="215.6" r="3.6"/>
<circle cx="458.3" cy="210.9" r="3.6"/>
<circle cx="440.8" cy="214.4" r="3.6"/>
<circle cx="423.6" cy="196.5" r="3.6"/>
<circle cx="414.0" cy="217.0" r="3.6"/>
<circle cx="420.5" cy="218.2" r="3.6"/>
<circle cx="416.0" cy="236.2" r="3.6"/>
<circle cx="421.7" cy="236.2" r="3.6"/>
<circle cx="408.4" cy="242.5" r="3.6"/>
<circle cx="413.5" cy="242.5" r="3.6"/>
<circle cx="403.3" cy="246.4" r="3.6"/>
<circle cx="405.8" cy="246.4" r="3.6"/>
<circle cx="421.9" cy="186.7" r="3.6"/>
<circle cx="428.9" cy="184.8" r="3.6"/>
<circle cx="423.8" cy="196.9" r="3.6"/>
<circle cx="427.6" cy="198.2" r="3.6"/>
<circle cx="421.9" cy="203.3" r="3.6"/>
<circle cx="416.0" cy="217.2" r="3.6"/>
<circle cx="419.0" cy="217.2" r="3.6"/>
<circle cx="423.0" cy="216.0" r="3.6"/>
<circle cx="427.0" cy="216.6" r="3.6"/>
<circle cx="431.0" cy="217.2" r="3.6"/>
<circle cx="435.0" cy="216.0" r="3.6"/>
<circle cx="438.0" cy="216.0" r="3.6"/>
<circle cx="421.0" cy="204.5" r="3.6"/>
<circle cx="425.0" cy="204.5" r="3.6"/>
<circle cx="429.0" cy="204.5" r="3.6"/>
<circle cx="433.0" cy="204.5" r="3.6"/>
<circle cx="437.0" cy="204.5" r="3.6"/>
<circle cx="441.0" cy="204.5" r="3.6"/>
<circle cx="445.0" cy="204.5" r="3.6"/>
<circle cx="448.0" cy="204.5" r="3.6"/>
<circle cx="446.0" cy="173.4" r="3.6"/>
<circle cx="440.7" cy="187.0" r="3.6"/>
<circle cx="435.6" cy="208.4" r="3.6"/>
<circle cx="442.6" cy="188.4" r="3.6"/>
<circle cx="455.6" cy="183.4" r="3.6"/>
<circle cx="430.3" cy="207.9" r="3.6"/>
<circle cx="445.5" cy="187.3" r="3.6"/>
<circle cx="447.4" cy="189.8" r="3.6"/>
<circle cx="430.5" cy="197.2" r="3.6"/>
<circle cx="427.3" cy="196.7" r="3.6"/>
<circle cx="449.7" cy="183.4" r="3.6"/>
<circle cx="435.3" cy="205.1" r="3.6"/>
<circle cx="456.4" cy="184.6" r="3.6"/>
<circle cx="448.1" cy="197.6" r="3.6"/>
<circle cx="442.8" cy="191.2" r="3.6"/>
<circle cx="437.9" cy="200.8" r="3.6"/>
<circle cx="453.9" cy="183.2" r="3.6"/>
<circle cx="433.8" cy="201.0" r="3.6"/>
<circle cx="434.1" cy="210.4" r="3.6"/>
<circle cx="428.9" cy="189.3" r="3.6"/>
<circle cx="432.6" cy="211.0" r="3.6"/>
<circle cx="426.8" cy="192.5" r="3.6"/>
<circle cx="443.2" cy="182.2" r="3.6"/>
<circle cx="433.1" cy="196.3" r="3.6"/>
<circle cx="439.8" cy="198.7" r="3.6"/>
<circle cx="447.2" cy="172.5" r="3.6"/>
<circle cx="434.1" cy="188.5" r="3.6"/>
<circle cx="444.3" cy="176.9" r="3.6"/>
<circle cx="437.5" cy="192.5" r="3.6"/>
<circle cx="454.2" cy="177.5" r="3.6"/>
<circle cx="428.1" cy="187.0" r="3.6"/>
<circle cx="423.8" cy="205.8" r="3.6"/>
<circle cx="440.6" cy="206.1" r="3.6"/>
<circle cx="426.5" cy="194.0" r="3.6"/>
<circle cx="428.0" cy="202.1" r="3.6"/>
<circle cx="460.1" cy="190.8" r="3.6"/>
<circle cx="460.1" cy="186.9" r="3.6"/>
<circle cx="454.8" cy="192.2" r="3.6"/>
<circle cx="450.6" cy="192.2" r="3.6"/>
<circle cx="424.3" cy="206.6" r="3.6"/>
<circle cx="431.4" cy="207.1" r="3.6"/>
<circle cx="460.8" cy="188.4" r="3.6"/>
<circle cx="434.5" cy="213.9" r="3.6"/>
<circle cx="449.4" cy="177.9" r="3.6"/>
<circle cx="422.8" cy="208.3" r="3.6"/>
<circle cx="432.2" cy="195.5" r="3.6"/>
<circle cx="436.0" cy="210.4" r="3.6"/>
<circle cx="454.1" cy="179.8" r="3.6"/>
<circle cx="427.1" cy="197.2" r="3.6"/>
<circle cx="428.0" cy="189.4" r="3.6"/>
<circle cx="422.1" cy="212.2" r="3.6"/>
<circle cx="432.4" cy="191.3" r="3.6"/>
<circle cx="435.4" cy="212.6" r="3.6"/>
<circle cx="439.2" cy="194.7" r="3.6"/>
<circle cx="449.5" cy="195.8" r="3.6"/>
<circle cx="431.1" cy="194.1" r="3.6"/>
<circle cx="441.6" cy="206.4" r="3.6"/>
<circle cx="451.6" cy="193.6" r="3.6"/>
<circle cx="441.9" cy="205.3" r="3.6"/>
<circle cx="458.1" cy="190.6" r="3.6"/>
<circle cx="444.3" cy="193.5" r="3.6"/>
<circle cx="439.7" cy="202.1" r="3.6"/>
<circle cx="436.9" cy="194.7" r="3.6"/>
<circle cx="438.1" cy="213.7" r="3.6"/>
<circle cx="446.5" cy="176.6" r="3.6"/>
<circle cx="426.2" cy="214.2" r="3.6"/>
<circle cx="434.4" cy="192.6" r="3.6"/>
<circle cx="439.8" cy="185.7" r="3.6"/>
<circle cx="449.3" cy="170.9" r="3.6"/>
<circle cx="441.6" cy="190.4" r="3.6"/>
<circle cx="444.8" cy="193.8" r="3.6"/>
<circle cx="419.0" cy="215.7" r="3.6"/>
<circle cx="435.5" cy="212.3" r="3.6"/>
<circle cx="453.8" cy="182.0" r="3.6"/>
<circle cx="422.9" cy="212.6" r="3.6"/>
<circle cx="442.3" cy="202.5" r="3.6"/>
<circle cx="447.8" cy="189.7" r="3.6"/>
<circle cx="419.4" cy="213.5" r="3.6"/>
<circle cx="437.0" cy="185.7" r="3.6"/>
<circle cx="451.0" cy="183.5" r="3.6"/>
<circle cx="449.8" cy="195.6" r="3.6"/>
<circle cx="453.8" cy="190.1" r="3.6"/>
<circle cx="438.9" cy="208.7" r="3.6"/>
<circle cx="434.2" cy="193.5" r="3.6"/>
<circle cx="431.8" cy="208.6" r="3.6"/>
<circle cx="434.7" cy="186.1" r="3.6"/>
<circle cx="429.6" cy="191.3" r="3.6"/>
<circle cx="428.2" cy="214.6" r="3.6"/>
<circle cx="427.3" cy="214.8" r="3.6"/>
<circle cx="430.3" cy="186.6" r="3.6"/>
<circle cx="437.9" cy="193.3" r="3.6"/>
<circle cx="443.0" cy="194.6" r="3.6"/>
<circle cx="439.3" cy="208.7" r="3.6"/>
<circle cx="441.8" cy="199.1" r="3.6"/>
<circle cx="444.9" cy="201.6" r="3.6"/>
<circle cx="439.2" cy="194.8" r="3.6"/>
<circle cx="446.4" cy="173.1" r="3.6"/>
<circle cx="450.0" cy="181.7" r="3.6"/>
<circle cx="449.7" cy="179.5" r="3.6"/>
<circle cx="438.8" cy="187.8" r="3.6"/>
<circle cx="438.1" cy="201.7" r="3.6"/>
<circle cx="445.7" cy="173.6" r="3.6"/>
<circle cx="450.3" cy="184.1" r="3.6"/>
<circle cx="442.2" cy="170.6" r="3.6"/>
<circle cx="447.2" cy="183.5" r="3.6"/>
<circle cx="439.9" cy="191.6" r="3.6"/>
<circle cx="425.7" cy="213.9" r="3.6"/>
<circle cx="425.8" cy="197.0" r="3.6"/>
<circle cx="426.7" cy="211.6" r="3.6"/>
<circle cx="430.6" cy="209.0" r="3.6"/>
<circle cx="433.2" cy="188.2" r="3.6"/>
<circle cx="432.7" cy="189.9" r="3.6"/>
<circle cx="429.2" cy="213.4" r="3.6"/>
<circle cx="433.3" cy="214.3" r="3.6"/>
<circle cx="449.2" cy="172.3" r="3.6"/>
<circle cx="449.8" cy="190.9" r="3.6"/>
<circle cx="437.8" cy="186.0" r="3.6"/>
<circle cx="429.8" cy="204.3" r="3.6"/>
<circle cx="446.3" cy="184.0" r="3.6"/>
<circle cx="441.7" cy="188.3" r="3.6"/>
<circle cx="425.6" cy="212.0" r="3.6"/>
<circle cx="450.6" cy="189.2" r="3.6"/>
<circle cx="435.1" cy="194.3" r="3.6"/>
<circle cx="433.4" cy="185.7" r="3.6"/>
<circle cx="439.2" cy="199.2" r="3.6"/>
<circle cx="434.5" cy="190.7" r="3.6"/>
<circle cx="457.3" cy="192.0" r="3.6"/>
<circle cx="434.1" cy="213.0" r="3.6"/>
<circle cx="440.1" cy="201.6" r="3.6"/>
<circle cx="437.1" cy="195.6" r="3.6"/>
<circle cx="426.8" cy="212.7" r="3.6"/>
<circle cx="445.8" cy="184.1" r="3.6"/>
<circle cx="445.4" cy="202.4" r="3.6"/>
<circle cx="440.2" cy="197.0" r="3.6"/>
<circle cx="443.7" cy="170.5" r="3.6"/>
<circle cx="429.9" cy="191.4" r="3.6"/>
<circle cx="456.8" cy="192.1" r="3.6"/>
<circle cx="439.0" cy="201.3" r="3.6"/>
<circle cx="431.6" cy="189.5" r="3.6"/>
<circle cx="447.5" cy="179.2" r="3.6"/>
<circle cx="453.8" cy="180.7" r="3.6"/>
<circle cx="426.3" cy="205.3" r="3.6"/>
<circle cx="429.6" cy="214.2" r="3.6"/>
<circle cx="426.3" cy="189.4" r="3.6"/>
<circle cx="422.8" cy="188.3" r="3.6"/>
<circle cx="425.9" cy="215.2" r="3.6"/>
<circle cx="459.0" cy="185.3" r="3.6"/>
<circle cx="424.6" cy="213.4" r="3.6"/>
<circle cx="450.4" cy="171.5" r="3.6"/>
<circle cx="446.7" cy="187.6" r="3.6"/>
<circle cx="432.5" cy="208.1" r="3.6"/>
<circle cx="453.9" cy="190.1" r="3.6"/>
<circle cx="433.2" cy="212.7" r="3.6"/>
<circle cx="435.0" cy="207.7" r="3.6"/>
<circle cx="451.4" cy="171.9" r="3.6"/>
<circle cx="428.1" cy="203.2" r="3.6"/>
<circle cx="426.8" cy="192.1" r="3.6"/>
<circle cx="435.9" cy="192.9" r="3.6"/>
<circle cx="444.0" cy="185.2" r="3.6"/>
<circle cx="430.8" cy="186.8" r="3.6"/>
<circle cx="452.1" cy="173.7" r="3.6"/>
<circle cx="425.1" cy="204.9" r="3.6"/>
<circle cx="448.8" cy="190.7" r="3.6"/>
<circle cx="426.8" cy="189.3" r="3.6"/>
<circle cx="444.6" cy="201.3" r="3.6"/>
<circle cx="446.7" cy="175.6" r="3.6"/>
<circle cx="454.8" cy="183.6" r="3.6"/>
<circle cx="442.2" cy="187.3" r="3.6"/>
<circle cx="450.1" cy="179.3" r="3.6"/>
<circle cx="423.1" cy="211.0" r="3.6"/>
<circle cx="442.7" cy="185.2" r="3.6"/>
<circle cx="437.9" cy="208.0" r="3.6"/>
<circle cx="458.9" cy="187.3" r="3.6"/>
<circle cx="456.0" cy="190.8" r="3.6"/>
<circle cx="428.0" cy="206.1" r="3.6"/>
<circle cx="443.5" cy="198.8" r="3.6"/>
<circle cx="426.1" cy="187.1" r="3.6"/>
<circle cx="427.8" cy="197.8" r="3.6"/>
<circle cx="446.1" cy="179.5" r="3.6"/>
<circle cx="447.3" cy="178.6" r="3.6"/>
<circle cx="434.3" cy="195.5" r="3.6"/>
<circle cx="445.5" cy="174.2" r="3.6"/>
<circle cx="430.2" cy="214.2" r="3.6"/>
<circle cx="430.4" cy="196.3" r="3.6"/>
<circle cx="432.5" cy="189.3" r="3.6"/>
<circle cx="449.6" cy="179.5" r="3.6"/>
<circle cx="435.6" cy="208.1" r="3.6"/>
<circle cx="434.8" cy="211.0" r="3.6"/>
<circle cx="433.1" cy="193.4" r="3.6"/>
<circle cx="458.7" cy="188.0" r="3.6"/>
<circle cx="454.0" cy="177.5" r="3.6"/>
<circle cx="452.3" cy="180.3" r="3.6"/>
<circle cx="434.7" cy="209.3" r="3.6"/>
<circle cx="454.3" cy="178.5" r="3.6"/>
<circle cx="426.1" cy="188.6" r="3.6"/>
<circle cx="439.9" cy="187.8" r="3.6"/>
<circle cx="451.0" cy="171.8" r="3.6"/>
<circle cx="454.7" cy="175.5" r="3.6"/>
<circle cx="443.7" cy="195.5" r="3.6"/>
<circle cx="444.9" cy="184.2" r="3.6"/>
<circle cx="435.4" cy="197.0" r="3.6"/>
<circle cx="435.7" cy="200.6" r="3.6"/>
<circle cx="436.6" cy="190.3" r="3.6"/>
<circle cx="445.4" cy="173.8" r="3.6"/>
<circle cx="439.3" cy="187.5" r="3.6"/>
<circle cx="425.0" cy="215.5" r="3.6"/>
<circle cx="450.9" cy="177.4" r="3.6"/>
<circle cx="453.6" cy="176.7" r="3.6"/>
<circle cx="439.4" cy="184.8" r="3.6"/>
<circle cx="423.5" cy="213.4" r="3.6"/>
<circle cx="423.8" cy="206.4" r="3.6"/>
<circle cx="445.4" cy="186.7" r="3.6"/>
<circle cx="420.9" cy="216.1" r="3.6"/>
<circle cx="445.1" cy="188.3" r="3.6"/>
<circle cx="452.8" cy="182.3" r="3.6"/>
<circle cx="432.7" cy="205.5" r="3.6"/>
<circle cx="450.3" cy="172.3" r="3.6"/>
<circle cx="453.8" cy="181.8" r="3.6"/>
<circle cx="443.0" cy="200.8" r="3.6"/>
<circle cx="444.4" cy="190.1" r="3.6"/>
<circle cx="446.1" cy="171.1" r="3.6"/>
<circle cx="426.4" cy="197.1" r="3.6"/>
<circle cx="443.2" cy="179.5" r="3.6"/>
<circle cx="444.8" cy="192.0" r="3.6"/>
<circle cx="422.3" cy="213.4" r="3.6"/>
<circle cx="442.0" cy="186.3" r="3.6"/>
<circle cx="445.8" cy="190.6" r="3.6"/>
<circle cx="427.5" cy="211.9" r="3.6"/>
<circle cx="425.2" cy="198.2" r="3.6"/>
<circle cx="439.4" cy="199.8" r="3.6"/>
<circle cx="453.5" cy="178.1" r="3.6"/>
<circle cx="450.4" cy="191.6" r="3.6"/>
<circle cx="450.2" cy="191.0" r="3.6"/>
<circle cx="431.5" cy="204.8" r="3.6"/>
<circle cx="448.8" cy="182.4" r="3.6"/>
<circle cx="441.6" cy="190.2" r="3.6"/>
<circle cx="428.3" cy="199.8" r="3.6"/>
<circle cx="450.4" cy="185.2" r="3.6"/>
<circle cx="456.6" cy="185.3" r="3.6"/>
<circle cx="427.1" cy="212.1" r="3.6"/>
<circle cx="445.1" cy="202.1" r="3.6"/>
<circle cx="437.7" cy="209.0" r="3.6"/>
<circle cx="436.2" cy="203.6" r="3.6"/>
<circle cx="442.3" cy="184.3" r="3.6"/>
<circle cx="425.8" cy="198.9" r="3.6"/>
<circle cx="419.6" cy="212.2" r="3.6"/>
<circle cx="421.0" cy="213.1" r="3.6"/>
<circle cx="432.8" cy="207.9" r="3.6"/>
<circle cx="445.2" cy="183.3" r="3.6"/>
<circle cx="450.9" cy="179.5" r="3.6"/>
<circle cx="430.8" cy="189.7" r="3.6"/>
<circle cx="429.1" cy="203.2" r="3.6"/>
<circle cx="436.2" cy="205.9" r="3.6"/>
<circle cx="432.0" cy="202.7" r="3.6"/>
<circle cx="453.8" cy="177.9" r="3.6"/>
<circle cx="438.7" cy="207.0" r="3.6"/>
<circle cx="432.1" cy="208.6" r="3.6"/>
<circle cx="428.1" cy="213.8" r="3.6"/>
<circle cx="448.3" cy="193.1" r="3.6"/>
<circle cx="445.0" cy="186.5" r="3.6"/>
<circle cx="412.7" cy="188.8" r="3.6"/>
<circle cx="414.4" cy="205.7" r="3.6"/>
<circle cx="458.6" cy="210.9" r="3.6"/>
<circle cx="449.3" cy="215.6" r="3.6"/>
<circle cx="449.3" cy="161.5" r="3.6"/>
</g>
<polygon points="401.4,237.2 406.4,231.4 411.4,225.6 416.4,219.8 421.3,213.9 426.3,208.0 431.3,202.0 436.3,196.0 441.2,190.0 446.2,183.9 451.2,177.8 456.1,171.6 461.1,165.4 466.1,159.1 471.1,152.9 476.0,146.5 481.0,140.2 486.0,133.8 490.9,127.3 495.9,120.8 500.9,114.3 500.9,119.9 495.9,125.7 490.9,131.5 486.0,137.3 481.0,143.2 476.0,149.1 471.1,155.1 466.1,161.1 461.1,167.1 456.1,173.2 451.2,179.4 446.2,185.5 441.2,191.7 436.3,198.0 431.3,204.3 426.3,210.6 421.3,217.0 416.4,223.4 411.4,229.8 406.4,236.3 401.4,242.8" fill="#aaa" fill-opacity="0.5"/>
<line x1="401.44" y1="240.02" x2="500.89" y2="117.09" stroke="#000" stroke-width="1.05"/>
<rect x="328.4" y="16.9" width="212.0" height="376.5" fill="none" stroke="#808080" stroke-width="0.8"/>
<line x1="328.4" x2="328.4" y1="16.9" y2="393.9" stroke="#858585" stroke-width="0.9"/>
<line x1="328.0" x2="540.4" y1="393.4" y2="393.4" stroke="#333" stroke-width="1"/>
<line x1="326.79999999999995" x2="328.4" y1="376.29" y2="376.29" stroke="#333" stroke-width="0.5"/>
<line x1="338.04" x2="338.04" y1="393.4" y2="395.0" stroke="#333" stroke-width="0.5"/>
<text x="326" y="379.09" text-anchor="end" font-size="8.3" font-weight="bold">-1.0</text>
<text x="338.24" y="402.0" text-anchor="middle" font-size="8.3" font-weight="bold">-1.0</text>
<line x1="326.79999999999995" x2="328.4" y1="290.72" y2="290.72" stroke="#333" stroke-width="0.5"/>
<line x1="386.22" x2="386.22" y1="393.4" y2="395.0" stroke="#333" stroke-width="0.5"/>
<text x="326" y="293.52" text-anchor="end" font-size="8.3" font-weight="bold">-0.5</text>
<text x="386.42" y="402.0" text-anchor="middle" font-size="8.3" font-weight="bold">-0.5</text>
<line x1="326.79999999999995" x2="328.4" y1="205.15" y2="205.15" stroke="#333" stroke-width="0.5"/>
<line x1="434.40" x2="434.40" y1="393.4" y2="395.0" stroke="#333" stroke-width="0.5"/>
<text x="326" y="207.95" text-anchor="end" font-size="8.3" font-weight="bold">0.0</text>
<text x="434.60" y="402.0" text-anchor="middle" font-size="8.3" font-weight="bold">0.0</text>
<line x1="326.79999999999995" x2="328.4" y1="119.58" y2="119.58" stroke="#333" stroke-width="0.5"/>
<line x1="482.58" x2="482.58" y1="393.4" y2="395.0" stroke="#333" stroke-width="0.5"/>
<text x="326" y="122.38" text-anchor="end" font-size="8.3" font-weight="bold">0.5</text>
<text x="482.78" y="402.0" text-anchor="middle" font-size="8.3" font-weight="bold">0.5</text>
<line x1="326.79999999999995" x2="328.4" y1="34.01" y2="34.01" stroke="#333" stroke-width="0.5"/>
<line x1="530.76" x2="530.76" y1="393.4" y2="395.0" stroke="#333" stroke-width="0.5"/>
<text x="326" y="36.81" text-anchor="end" font-size="8.3" font-weight="bold">1.0</text>
<text x="530.96" y="402.0" text-anchor="middle" font-size="8.3" font-weight="bold">1.0</text>
<text x="434.8" y="411.5" text-anchor="middle" font-size="9.8" font-weight="bold">Observated value</text>
<text transform="translate(309.2,205.0) rotate(-90)" text-anchor="middle" font-size="9.8" font-weight="bold">Predicted value</text>
<text x="338.7" y="44.4" font-size="9.3" fill="#1a1a1a" textLength="77" lengthAdjust="spacing" xml:space="preserve"><tspan font-style="italic">y</tspan> = 0.0343 + 0.696 <tspan font-style="italic">x</tspan></text>
<text x="423.5" y="44.4" font-size="9.3" fill="#1a1a1a" textLength="35.5" lengthAdjust="spacing" xml:space="preserve"><tspan font-style="italic">R</tspan><tspan font-size="6.8" dy="-4.2">2</tspan><tspan dy="4.2"> </tspan>= 0.73</text>
<text x="339.0" y="53.7" font-size="9.3" fill="#1a1a1a" textLength="74.8" lengthAdjust="spacing">RMSE=0.07, n=374</text>
<rect x="328.4" y="438.9" width="212.0" height="376.5" fill="#fff" stroke="none"/>
<line x1="338.04" x2="338.04" y1="438.9" y2="815.4" stroke="#e9e9e9" stroke-width="0.6"/>
<line x1="328.4" x2="540.4" y1="798.29" y2="798.29" stroke="#e9e9e9" stroke-width="0.6"/>
<line x1="386.22" x2="386.22" y1="438.9" y2="815.4" stroke="#e9e9e9" stroke-width="0.6"/>
<line x1="328.4" x2="540.4" y1="712.72" y2="712.72" stroke="#e9e9e9" stroke-width="0.6"/>
<line x1="434.40" x2="434.40" y1="438.9" y2="815.4" stroke="#e9e9e9" stroke-width="0.6"/>
<line x1="328.4" x2="540.4" y1="627.15" y2="627.15" stroke="#e9e9e9" stroke-width="0.6"/>
<line x1="482.58" x2="482.58" y1="438.9" y2="815.4" stroke="#e9e9e9" stroke-width="0.6"/>
<line x1="328.4" x2="540.4" y1="541.58" y2="541.58" stroke="#e9e9e9" stroke-width="0.6"/>
<line x1="530.76" x2="530.76" y1="438.9" y2="815.4" stroke="#e9e9e9" stroke-width="0.6"/>
<line x1="328.4" x2="540.4" y1="456.01" y2="456.01" stroke="#e9e9e9" stroke-width="0.6"/>
<line x1="328.4" y1="815.4" x2="540.4" y2="438.9" stroke="#333" stroke-width="0.8" stroke-dasharray="2.7 2.65"/>
<g fill="#1eba7c">
<circle cx="486.6" cy="491.6" r="3.6"/>
<circle cx="486.2" cy="499.6" r="3.6"/>
<circle cx="515.7" cy="491.6" r="3.6"/>
<circle cx="519.3" cy="491.6" r="3.6"/>
<circle cx="502.9" cy="499.6" r="3.6"/>
<circle cx="506.5" cy="499.6" r="3.6"/>
<circle cx="510.2" cy="499.6" r="3.6"/>
<circle cx="518.9" cy="499.6" r="3.6"/>
<circle cx="520.4" cy="499.6" r="3.6"/>
<circle cx="527.6" cy="507.6" r="3.6"/>
<circle cx="488.4" cy="520.0" r="3.6"/>
<circle cx="518.9" cy="530.9" r="3.6"/>
<circle cx="523.3" cy="530.9" r="3.6"/>
<circle cx="486.2" cy="528.0" r="3.6"/>
<circle cx="502.9" cy="528.0" r="3.6"/>
<circle cx="505.1" cy="532.4" r="3.6"/>
<circle cx="476.7" cy="528.0" r="3.6"/>
<circle cx="473.1" cy="530.9" r="3.6"/>
<circle cx="473.8" cy="535.3" r="3.6"/>
<circle cx="482.5" cy="535.3" r="3.6"/>
<circle cx="490.5" cy="535.3" r="3.6"/>
<circle cx="497.8" cy="535.3" r="3.6"/>
<circle cx="468.7" cy="539.0" r="3.6"/>
<circle cx="503.6" cy="539.5" r="3.6"/>
<circle cx="512.4" cy="539.5" r="3.6"/>
<circle cx="451.5" cy="539.5" r="3.6"/>
<circle cx="468.2" cy="540.3" r="3.6"/>
<circle cx="476.9" cy="527.9" r="3.6"/>
<circle cx="486.4" cy="527.2" r="3.6"/>
<circle cx="485.6" cy="539.5" r="3.6"/>
<circle cx="501.6" cy="527.9" r="3.6"/>
<circle cx="466.7" cy="550.5" r="3.6"/>
<circle cx="460.2" cy="554.1" r="3.6"/>
<circle cx="475.5" cy="553.4" r="3.6"/>
<circle cx="483.5" cy="550.5" r="3.6"/>
<circle cx="490.0" cy="546.8" r="3.6"/>
<circle cx="501.6" cy="549.7" r="3.6"/>
<circle cx="499.5" cy="554.1" r="3.6"/>
<circle cx="498.0" cy="559.9" r="3.6"/>
<circle cx="456.5" cy="561.4" r="3.6"/>
<circle cx="470.4" cy="562.8" r="3.6"/>
<circle cx="499.5" cy="568.6" r="3.6"/>
<circle cx="493.6" cy="568.6" r="3.6"/>
<circle cx="489.3" cy="568.6" r="3.6"/>
<circle cx="481.3" cy="567.2" r="3.6"/>
<circle cx="477.6" cy="571.5" r="3.6"/>
<circle cx="479.8" cy="581.7" r="3.6"/>
<circle cx="489.3" cy="581.7" r="3.6"/>
<circle cx="473.3" cy="578.8" r="3.6"/>
<circle cx="456.5" cy="562.2" r="3.6"/>
<circle cx="436.2" cy="573.8" r="3.6"/>
<circle cx="439.8" cy="578.2" r="3.6"/>
<circle cx="428.2" cy="582.5" r="3.6"/>
<circle cx="453.6" cy="568.7" r="3.6"/>
<circle cx="460.9" cy="568.0" r="3.6"/>
<circle cx="479.8" cy="567.3" r="3.6"/>
<circle cx="488.5" cy="568.7" r="3.6"/>
<circle cx="479.8" cy="582.5" r="3.6"/>
<circle cx="484.9" cy="585.5" r="3.6"/>
<circle cx="475.5" cy="588.4" r="3.6"/>
<circle cx="466.0" cy="594.2" r="3.6"/>
<circle cx="466.0" cy="610.2" r="3.6"/>
<circle cx="452.9" cy="613.1" r="3.6"/>
<circle cx="426.7" cy="605.8" r="3.6"/>
<circle cx="428.9" cy="610.2" r="3.6"/>
<circle cx="423.1" cy="613.8" r="3.6"/>
<circle cx="399.5" cy="622.5" r="3.6"/>
<circle cx="400.9" cy="632.0" r="3.6"/>
<circle cx="390.5" cy="634.2" r="3.6"/>
<circle cx="466.4" cy="610.2" r="3.6"/>
<circle cx="457.6" cy="622.5" r="3.6"/>
<circle cx="462.7" cy="632.0" r="3.6"/>
<circle cx="453.3" cy="634.2" r="3.6"/>
<circle cx="421.3" cy="632.7" r="3.6"/>
<circle cx="421.3" cy="639.3" r="3.6"/>
<circle cx="428.5" cy="627.6" r="3.6"/>
<circle cx="428.5" cy="634.2" r="3.6"/>
<circle cx="432.2" cy="632.7" r="3.6"/>
<circle cx="428.7" cy="627.8" r="3.6"/>
<circle cx="432.4" cy="632.5" r="3.6"/>
<circle cx="431.0" cy="629.5" r="3.6"/>
<circle cx="433.5" cy="626.0" r="3.6"/>
<circle cx="439.5" cy="627.6" r="3.6"/>
<circle cx="440.2" cy="621.8" r="3.6"/>
<circle cx="447.5" cy="619.6" r="3.6"/>
<circle cx="452.5" cy="613.8" r="3.6"/>
<circle cx="408.9" cy="653.8" r="3.6"/>
<circle cx="414.7" cy="653.8" r="3.6"/>
<circle cx="418.4" cy="653.8" r="3.6"/>
<circle cx="426.4" cy="653.8" r="3.6"/>
<circle cx="432.9" cy="653.8" r="3.6"/>
<circle cx="436.5" cy="656.0" r="3.6"/>
<circle cx="389.8" cy="653.8" r="3.6"/>
<circle cx="396.5" cy="658.0" r="3.6"/>
<circle cx="408.9" cy="658.2" r="3.6"/>
<circle cx="451.9" cy="587.1" r="3.6"/>
<circle cx="470.5" cy="567.0" r="3.6"/>
<circle cx="470.4" cy="563.0" r="3.6"/>
<circle cx="445.5" cy="591.5" r="3.6"/>
<circle cx="449.9" cy="582.7" r="3.6"/>
<circle cx="442.5" cy="616.4" r="3.6"/>
<circle cx="443.0" cy="590.0" r="3.6"/>
<circle cx="441.4" cy="591.5" r="3.6"/>
<circle cx="470.3" cy="576.9" r="3.6"/>
<circle cx="446.0" cy="582.7" r="3.6"/>
<circle cx="456.5" cy="571.9" r="3.6"/>
<circle cx="440.5" cy="624.2" r="3.6"/>
<circle cx="464.5" cy="589.8" r="3.6"/>
<circle cx="444.1" cy="603.0" r="3.6"/>
<circle cx="463.0" cy="594.1" r="3.6"/>
<circle cx="460.7" cy="591.6" r="3.6"/>
<circle cx="442.0" cy="600.8" r="3.6"/>
<circle cx="452.6" cy="576.3" r="3.6"/>
<circle cx="461.0" cy="591.0" r="3.6"/>
<circle cx="448.5" cy="602.4" r="3.6"/>
<circle cx="440.3" cy="588.8" r="3.6"/>
<circle cx="460.6" cy="577.7" r="3.6"/>
<circle cx="452.7" cy="591.1" r="3.6"/>
<circle cx="460.3" cy="588.1" r="3.6"/>
<circle cx="443.6" cy="604.1" r="3.6"/>
<circle cx="438.0" cy="596.9" r="3.6"/>
<circle cx="442.7" cy="612.4" r="3.6"/>
<circle cx="440.4" cy="598.9" r="3.6"/>
<circle cx="444.6" cy="606.1" r="3.6"/>
<circle cx="441.2" cy="625.7" r="3.6"/>
<circle cx="447.0" cy="587.5" r="3.6"/>
<circle cx="450.0" cy="578.7" r="3.6"/>
<circle cx="445.1" cy="609.8" r="3.6"/>
<circle cx="444.9" cy="613.7" r="3.6"/>
<circle cx="451.5" cy="575.2" r="3.6"/>
<circle cx="441.5" cy="612.1" r="3.6"/>
<circle cx="454.5" cy="598.1" r="3.6"/>
<circle cx="450.0" cy="603.1" r="3.6"/>
<circle cx="454.4" cy="580.6" r="3.6"/>
<circle cx="457.5" cy="569.5" r="3.6"/>
<circle cx="450.9" cy="577.9" r="3.6"/>
<circle cx="452.8" cy="573.5" r="3.6"/>
<circle cx="448.1" cy="592.7" r="3.6"/>
<circle cx="452.9" cy="603.0" r="3.6"/>
<circle cx="461.7" cy="585.0" r="3.6"/>
<circle cx="438.8" cy="615.5" r="3.6"/>
<circle cx="441.9" cy="615.7" r="3.6"/>
<circle cx="461.6" cy="577.7" r="3.6"/>
<circle cx="445.5" cy="612.1" r="3.6"/>
<circle cx="443.0" cy="619.6" r="3.6"/>
<circle cx="444.1" cy="606.6" r="3.6"/>
<circle cx="457.7" cy="578.6" r="3.6"/>
<circle cx="454.4" cy="570.8" r="3.6"/>
<circle cx="455.3" cy="593.9" r="3.6"/>
<circle cx="454.4" cy="598.1" r="3.6"/>
<circle cx="450.9" cy="588.7" r="3.6"/>
<circle cx="473.2" cy="566.3" r="3.6"/>
<circle cx="456.0" cy="593.0" r="3.6"/>
<circle cx="470.8" cy="563.6" r="3.6"/>
<circle cx="450.5" cy="592.4" r="3.6"/>
<circle cx="444.6" cy="589.8" r="3.6"/>
<circle cx="452.7" cy="597.6" r="3.6"/>
<circle cx="455.8" cy="579.1" r="3.6"/>
<circle cx="449.2" cy="582.1" r="3.6"/>
<circle cx="448.0" cy="599.7" r="3.6"/>
<circle cx="462.5" cy="575.2" r="3.6"/>
<circle cx="462.0" cy="591.3" r="3.6"/>
<circle cx="465.7" cy="568.0" r="3.6"/>
<circle cx="461.6" cy="585.5" r="3.6"/>
<circle cx="458.0" cy="578.2" r="3.6"/>
<circle cx="448.1" cy="588.9" r="3.6"/>
<circle cx="448.7" cy="589.5" r="3.6"/>
<circle cx="438.7" cy="598.4" r="3.6"/>
<circle cx="461.2" cy="575.2" r="3.6"/>
<circle cx="441.2" cy="624.5" r="3.6"/>
<circle cx="439.9" cy="618.2" r="3.6"/>
<circle cx="464.0" cy="577.2" r="3.6"/>
<circle cx="464.5" cy="573.6" r="3.6"/>
<circle cx="464.4" cy="566.9" r="3.6"/>
<circle cx="467.7" cy="566.6" r="3.6"/>
<circle cx="442.9" cy="617.6" r="3.6"/>
<circle cx="450.6" cy="598.9" r="3.6"/>
<circle cx="442.1" cy="613.5" r="3.6"/>
<circle cx="450.4" cy="603.5" r="3.6"/>
<circle cx="460.6" cy="588.7" r="3.6"/>
<circle cx="458.2" cy="580.5" r="3.6"/>
<circle cx="438.9" cy="625.0" r="3.6"/>
<circle cx="449.2" cy="600.9" r="3.6"/>
<circle cx="459.5" cy="581.5" r="3.6"/>
<circle cx="450.9" cy="606.1" r="3.6"/>
<circle cx="452.7" cy="599.7" r="3.6"/>
<circle cx="458.4" cy="579.2" r="3.6"/>
<circle cx="444.2" cy="610.4" r="3.6"/>
<circle cx="454.3" cy="574.9" r="3.6"/>
<circle cx="446.3" cy="610.4" r="3.6"/>
<circle cx="439.9" cy="614.1" r="3.6"/>
<circle cx="466.0" cy="576.6" r="3.6"/>
<circle cx="454.7" cy="599.9" r="3.6"/>
<circle cx="443.5" cy="607.2" r="3.6"/>
<circle cx="450.4" cy="598.2" r="3.6"/>
<circle cx="451.9" cy="595.2" r="3.6"/>
<circle cx="440.6" cy="602.7" r="3.6"/>
<circle cx="466.6" cy="571.6" r="3.6"/>
<circle cx="459.3" cy="583.9" r="3.6"/>
<circle cx="458.2" cy="578.4" r="3.6"/>
<circle cx="466.3" cy="589.2" r="3.6"/>
<circle cx="471.3" cy="565.5" r="3.6"/>
<circle cx="459.4" cy="587.3" r="3.6"/>
<circle cx="441.2" cy="624.0" r="3.6"/>
<circle cx="446.4" cy="598.2" r="3.6"/>
<circle cx="462.1" cy="587.0" r="3.6"/>
<circle cx="453.7" cy="571.8" r="3.6"/>
<circle cx="446.3" cy="584.4" r="3.6"/>
<circle cx="468.5" cy="564.4" r="3.6"/>
<circle cx="462.4" cy="580.9" r="3.6"/>
<circle cx="454.9" cy="572.4" r="3.6"/>
<circle cx="463.9" cy="574.1" r="3.6"/>
<circle cx="441.9" cy="590.6" r="3.6"/>
<circle cx="440.3" cy="622.0" r="3.6"/>
<circle cx="453.8" cy="583.6" r="3.6"/>
<circle cx="460.5" cy="570.7" r="3.6"/>
<circle cx="442.1" cy="618.3" r="3.6"/>
<circle cx="446.7" cy="588.3" r="3.6"/>
<circle cx="443.0" cy="593.4" r="3.6"/>
<circle cx="440.9" cy="625.3" r="3.6"/>
<circle cx="438.8" cy="619.8" r="3.6"/>
<circle cx="462.1" cy="575.2" r="3.6"/>
<circle cx="454.8" cy="580.1" r="3.6"/>
<circle cx="470.7" cy="565.1" r="3.6"/>
<circle cx="464.3" cy="580.5" r="3.6"/>
<circle cx="473.9" cy="562.4" r="3.6"/>
<circle cx="443.7" cy="589.8" r="3.6"/>
<circle cx="471.3" cy="575.6" r="3.6"/>
<circle cx="458.4" cy="570.4" r="3.6"/>
<circle cx="443.5" cy="611.7" r="3.6"/>
<circle cx="463.7" cy="574.2" r="3.6"/>
<circle cx="459.8" cy="593.7" r="3.6"/>
<circle cx="464.5" cy="588.0" r="3.6"/>
<circle cx="464.1" cy="565.0" r="3.6"/>
<circle cx="443.7" cy="615.7" r="3.6"/>
<circle cx="450.7" cy="600.2" r="3.6"/>
<circle cx="453.6" cy="595.0" r="3.6"/>
<circle cx="441.2" cy="608.0" r="3.6"/>
<circle cx="438.9" cy="618.4" r="3.6"/>
<circle cx="456.1" cy="596.0" r="3.6"/>
<circle cx="446.1" cy="614.8" r="3.6"/>
<circle cx="463.2" cy="574.1" r="3.6"/>
<circle cx="458.6" cy="595.5" r="3.6"/>
<circle cx="463.4" cy="568.1" r="3.6"/>
<circle cx="455.4" cy="594.1" r="3.6"/>
<circle cx="404.1" cy="569.3" r="3.6"/>
<circle cx="443.1" cy="553.6" r="3.6"/>
</g>
<g fill="#00880c" fill-opacity="0.3">
<circle cx="486.6" cy="491.6" r="3.6"/>
<circle cx="486.2" cy="499.6" r="3.6"/>
<circle cx="515.7" cy="491.6" r="3.6"/>
<circle cx="519.3" cy="491.6" r="3.6"/>
<circle cx="502.9" cy="499.6" r="3.6"/>
<circle cx="506.5" cy="499.6" r="3.6"/>
<circle cx="510.2" cy="499.6" r="3.6"/>
<circle cx="518.9" cy="499.6" r="3.6"/>
<circle cx="520.4" cy="499.6" r="3.6"/>
<circle cx="527.6" cy="507.6" r="3.6"/>
<circle cx="488.4" cy="520.0" r="3.6"/>
<circle cx="518.9" cy="530.9" r="3.6"/>
<circle cx="523.3" cy="530.9" r="3.6"/>
<circle cx="486.2" cy="528.0" r="3.6"/>
<circle cx="502.9" cy="528.0" r="3.6"/>
<circle cx="505.1" cy="532.4" r="3.6"/>
<circle cx="476.7" cy="528.0" r="3.6"/>
<circle cx="473.1" cy="530.9" r="3.6"/>
<circle cx="473.8" cy="535.3" r="3.6"/>
<circle cx="482.5" cy="535.3" r="3.6"/>
<circle cx="490.5" cy="535.3" r="3.6"/>
<circle cx="497.8" cy="535.3" r="3.6"/>
<circle cx="468.7" cy="539.0" r="3.6"/>
<circle cx="503.6" cy="539.5" r="3.6"/>
<circle cx="512.4" cy="539.5" r="3.6"/>
<circle cx="451.5" cy="539.5" r="3.6"/>
<circle cx="468.2" cy="540.3" r="3.6"/>
<circle cx="476.9" cy="527.9" r="3.6"/>
<circle cx="486.4" cy="527.2" r="3.6"/>
<circle cx="485.6" cy="539.5" r="3.6"/>
<circle cx="501.6" cy="527.9" r="3.6"/>
<circle cx="466.7" cy="550.5" r="3.6"/>
<circle cx="460.2" cy="554.1" r="3.6"/>
<circle cx="475.5" cy="553.4" r="3.6"/>
<circle cx="483.5" cy="550.5" r="3.6"/>
<circle cx="490.0" cy="546.8" r="3.6"/>
<circle cx="501.6" cy="549.7" r="3.6"/>
<circle cx="499.5" cy="554.1" r="3.6"/>
<circle cx="498.0" cy="559.9" r="3.6"/>
<circle cx="456.5" cy="561.4" r="3.6"/>
<circle cx="470.4" cy="562.8" r="3.6"/>
<circle cx="499.5" cy="568.6" r="3.6"/>
<circle cx="493.6" cy="568.6" r="3.6"/>
<circle cx="489.3" cy="568.6" r="3.6"/>
<circle cx="481.3" cy="567.2" r="3.6"/>
<circle cx="477.6" cy="571.5" r="3.6"/>
<circle cx="479.8" cy="581.7" r="3.6"/>
<circle cx="489.3" cy="581.7" r="3.6"/>
<circle cx="473.3" cy="578.8" r="3.6"/>
<circle cx="456.5" cy="562.2" r="3.6"/>
<circle cx="436.2" cy="573.8" r="3.6"/>
<circle cx="439.8" cy="578.2" r="3.6"/>
<circle cx="428.2" cy="582.5" r="3.6"/>
<circle cx="453.6" cy="568.7" r="3.6"/>
<circle cx="460.9" cy="568.0" r="3.6"/>
<circle cx="479.8" cy="567.3" r="3.6"/>
<circle cx="488.5" cy="568.7" r="3.6"/>
<circle cx="479.8" cy="582.5" r="3.6"/>
<circle cx="484.9" cy="585.5" r="3.6"/>
<circle cx="475.5" cy="588.4" r="3.6"/>
<circle cx="466.0" cy="594.2" r="3.6"/>
<circle cx="466.0" cy="610.2" r="3.6"/>
<circle cx="452.9" cy="613.1" r="3.6"/>
<circle cx="426.7" cy="605.8" r="3.6"/>
<circle cx="428.9" cy="610.2" r="3.6"/>
<circle cx="423.1" cy="613.8" r="3.6"/>
<circle cx="399.5" cy="622.5" r="3.6"/>
<circle cx="400.9" cy="632.0" r="3.6"/>
<circle cx="390.5" cy="634.2" r="3.6"/>
<circle cx="466.4" cy="610.2" r="3.6"/>
<circle cx="457.6" cy="622.5" r="3.6"/>
<circle cx="462.7" cy="632.0" r="3.6"/>
<circle cx="453.3" cy="634.2" r="3.6"/>
<circle cx="421.3" cy="632.7" r="3.6"/>
<circle cx="421.3" cy="639.3" r="3.6"/>
<circle cx="428.5" cy="627.6" r="3.6"/>
<circle cx="428.5" cy="634.2" r="3.6"/>
<circle cx="432.2" cy="632.7" r="3.6"/>
<circle cx="428.7" cy="627.8" r="3.6"/>
<circle cx="432.4" cy="632.5" r="3.6"/>
<circle cx="431.0" cy="629.5" r="3.6"/>
<circle cx="433.5" cy="626.0" r="3.6"/>
<circle cx="439.5" cy="627.6" r="3.6"/>
<circle cx="440.2" cy="621.8" r="3.6"/>
<circle cx="447.5" cy="619.6" r="3.6"/>
<circle cx="452.5" cy="613.8" r="3.6"/>
<circle cx="408.9" cy="653.8" r="3.6"/>
<circle cx="414.7" cy="653.8" r="3.6"/>
<circle cx="418.4" cy="653.8" r="3.6"/>
<circle cx="426.4" cy="653.8" r="3.6"/>
<circle cx="432.9" cy="653.8" r="3.6"/>
<circle cx="436.5" cy="656.0" r="3.6"/>
<circle cx="389.8" cy="653.8" r="3.6"/>
<circle cx="396.5" cy="658.0" r="3.6"/>
<circle cx="408.9" cy="658.2" r="3.6"/>
<circle cx="451.9" cy="587.1" r="3.6"/>
<circle cx="470.5" cy="567.0" r="3.6"/>
<circle cx="470.4" cy="563.0" r="3.6"/>
<circle cx="445.5" cy="591.5" r="3.6"/>
<circle cx="449.9" cy="582.7" r="3.6"/>
<circle cx="442.5" cy="616.4" r="3.6"/>
<circle cx="443.0" cy="590.0" r="3.6"/>
<circle cx="441.4" cy="591.5" r="3.6"/>
<circle cx="470.3" cy="576.9" r="3.6"/>
<circle cx="446.0" cy="582.7" r="3.6"/>
<circle cx="456.5" cy="571.9" r="3.6"/>
<circle cx="440.5" cy="624.2" r="3.6"/>
<circle cx="464.5" cy="589.8" r="3.6"/>
<circle cx="444.1" cy="603.0" r="3.6"/>
<circle cx="463.0" cy="594.1" r="3.6"/>
<circle cx="460.7" cy="591.6" r="3.6"/>
<circle cx="442.0" cy="600.8" r="3.6"/>
<circle cx="452.6" cy="576.3" r="3.6"/>
<circle cx="461.0" cy="591.0" r="3.6"/>
<circle cx="448.5" cy="602.4" r="3.6"/>
<circle cx="440.3" cy="588.8" r="3.6"/>
<circle cx="460.6" cy="577.7" r="3.6"/>
<circle cx="452.7" cy="591.1" r="3.6"/>
<circle cx="460.3" cy="588.1" r="3.6"/>
<circle cx="443.6" cy="604.1" r="3.6"/>
<circle cx="438.0" cy="596.9" r="3.6"/>
<circle cx="442.7" cy="612.4" r="3.6"/>
<circle cx="440.4" cy="598.9" r="3.6"/>
<circle cx="444.6" cy="606.1" r="3.6"/>
<circle cx="441.2" cy="625.7" r="3.6"/>
<circle cx="447.0" cy="587.5" r="3.6"/>
<circle cx="450.0" cy="578.7" r="3.6"/>
<circle cx="445.1" cy="609.8" r="3.6"/>
<circle cx="444.9" cy="613.7" r="3.6"/>
<circle cx="451.5" cy="575.2" r="3.6"/>
<circle cx="441.5" cy="612.1" r="3.6"/>
<circle cx="454.5" cy="598.1" r="3.6"/>
<circle cx="450.0" cy="603.1" r="3.6"/>
<circle cx="454.4" cy="580.6" r="3.6"/>
<circle cx="457.5" cy="569.5" r="3.6"/>
<circle cx="450.9" cy="577.9" r="3.6"/>
<circle cx="452.8" cy="573.5" r="3.6"/>
<circle cx="448.1" cy="592.7" r="3.6"/>
<circle cx="452.9" cy="603.0" r="3.6"/>
<circle cx="461.7" cy="585.0" r="3.6"/>
<circle cx="438.8" cy="615.5" r="3.6"/>
<circle cx="441.9" cy="615.7" r="3.6"/>
<circle cx="461.6" cy="577.7" r="3.6"/>
<circle cx="445.5" cy="612.1" r="3.6"/>
<circle cx="443.0" cy="619.6" r="3.6"/>
<circle cx="444.1" cy="606.6" r="3.6"/>
<circle cx="457.7" cy="578.6" r="3.6"/>
<circle cx="454.4" cy="570.8" r="3.6"/>
<circle cx="455.3" cy="593.9" r="3.6"/>
<circle cx="454.4" cy="598.1" r="3.6"/>
<circle cx="450.9" cy="588.7" r="3.6"/>
<circle cx="473.2" cy="566.3" r="3.6"/>
<circle cx="456.0" cy="593.0" r="3.6"/>
<circle cx="470.8" cy="563.6" r="3.6"/>
<circle cx="450.5" cy="592.4" r="3.6"/>
<circle cx="444.6" cy="589.8" r="3.6"/>
<circle cx="452.7" cy="597.6" r="3.6"/>
<circle cx="455.8" cy="579.1" r="3.6"/>
<circle cx="449.2" cy="582.1" r="3.6"/>
<circle cx="448.0" cy="599.7" r="3.6"/>
<circle cx="462.5" cy="575.2" r="3.6"/>
<circle cx="462.0" cy="591.3" r="3.6"/>
<circle cx="465.7" cy="568.0" r="3.6"/>
<circle cx="461.6" cy="585.5" r="3.6"/>
<circle cx="458.0" cy="578.2" r="3.6"/>
<circle cx="448.1" cy="588.9" r="3.6"/>
<circle cx="448.7" cy="589.5" r="3.6"/>
<circle cx="438.7" cy="598.4" r="3.6"/>
<circle cx="461.2" cy="575.2" r="3.6"/>
<circle cx="441.2" cy="624.5" r="3.6"/>
<circle cx="439.9" cy="618.2" r="3.6"/>
<circle cx="464.0" cy="577.2" r="3.6"/>
<circle cx="464.5" cy="573.6" r="3.6"/>
<circle cx="464.4" cy="566.9" r="3.6"/>
<circle cx="467.7" cy="566.6" r="3.6"/>
<circle cx="442.9" cy="617.6" r="3.6"/>
<circle cx="450.6" cy="598.9" r="3.6"/>
<circle cx="442.1" cy="613.5" r="3.6"/>
<circle cx="450.4" cy="603.5" r="3.6"/>
<circle cx="460.6" cy="588.7" r="3.6"/>
<circle cx="458.2" cy="580.5" r="3.6"/>
<circle cx="438.9" cy="625.0" r="3.6"/>
<circle cx="449.2" cy="600.9" r="3.6"/>
<circle cx="459.5" cy="581.5" r="3.6"/>
<circle cx="450.9" cy="606.1" r="3.6"/>
<circle cx="452.7" cy="599.7" r="3.6"/>
<circle cx="458.4" cy="579.2" r="3.6"/>
<circle cx="444.2" cy="610.4" r="3.6"/>
<circle cx="454.3" cy="574.9" r="3.6"/>
<circle cx="446.3" cy="610.4" r="3.6"/>
<circle cx="439.9" cy="614.1" r="3.6"/>
<circle cx="466.0" cy="576.6" r="3.6"/>
<circle cx="454.7" cy="599.9" r="3.6"/>
<circle cx="443.5" cy="607.2" r="3.6"/>
<circle cx="450.4" cy="598.2" r="3.6"/>
<circle cx="451.9" cy="595.2" r="3.6"/>
<circle cx="440.6" cy="602.7" r="3.6"/>
<circle cx="466.6" cy="571.6" r="3.6"/>
<circle cx="459.3" cy="583.9" r="3.6"/>
<circle cx="458.2" cy="578.4" r="3.6"/>
<circle cx="466.3" cy="589.2" r="3.6"/>
<circle cx="471.3" cy="565.5" r="3.6"/>
<circle cx="459.4" cy="587.3" r="3.6"/>
<circle cx="441.2" cy="624.0" r="3.6"/>
<circle cx="446.4" cy="598.2" r="3.6"/>
<circle cx="462.1" cy="587.0" r="3.6"/>
<circle cx="453.7" cy="571.8" r="3.6"/>
<circle cx="446.3" cy="584.4" r="3.6"/>
<circle cx="468.5" cy="564.4" r="3.6"/>
<circle cx="462.4" cy="580.9" r="3.6"/>
<circle cx="454.9" cy="572.4" r="3.6"/>
<circle cx="463.9" cy="574.1" r="3.6"/>
<circle cx="441.9" cy="590.6" r="3.6"/>
<circle cx="440.3" cy="622.0" r="3.6"/>
<circle cx="453.8" cy="583.6" r="3.6"/>
<circle cx="460.5" cy="570.7" r="3.6"/>
<circle cx="442.1" cy="618.3" r="3.6"/>
<circle cx="446.7" cy="588.3" r="3.6"/>
<circle cx="443.0" cy="593.4" r="3.6"/>
<circle cx="440.9" cy="625.3" r="3.6"/>
<circle cx="438.8" cy="619.8" r="3.6"/>
<circle cx="462.1" cy="575.2" r="3.6"/>
<circle cx="454.8" cy="580.1" r="3.6"/>
<circle cx="470.7" cy="565.1" r="3.6"/>
<circle cx="464.3" cy="580.5" r="3.6"/>
<circle cx="473.9" cy="562.4" r="3.6"/>
<circle cx="443.7" cy="589.8" r="3.6"/>
<circle cx="471.3" cy="575.6" r="3.6"/>
<circle cx="458.4" cy="570.4" r="3.6"/>
<circle cx="443.5" cy="611.7" r="3.6"/>
<circle cx="463.7" cy="574.2" r="3.6"/>
<circle cx="459.8" cy="593.7" r="3.6"/>
<circle cx="464.5" cy="588.0" r="3.6"/>
<circle cx="464.1" cy="565.0" r="3.6"/>
<circle cx="443.7" cy="615.7" r="3.6"/>
<circle cx="450.7" cy="600.2" r="3.6"/>
<circle cx="453.6" cy="595.0" r="3.6"/>
<circle cx="441.2" cy="608.0" r="3.6"/>
<circle cx="438.9" cy="618.4" r="3.6"/>
<circle cx="456.1" cy="596.0" r="3.6"/>
<circle cx="446.1" cy="614.8" r="3.6"/>
<circle cx="463.2" cy="574.1" r="3.6"/>
<circle cx="458.6" cy="595.5" r="3.6"/>
<circle cx="463.4" cy="568.1" r="3.6"/>
<circle cx="455.4" cy="594.1" r="3.6"/>
<circle cx="404.1" cy="569.3" r="3.6"/>
<circle cx="443.1" cy="553.6" r="3.6"/>
</g>
<polygon points="390.6,657.8 397.4,650.5 404.3,643.2 411.1,635.8 418.0,628.3 424.8,620.8 431.7,613.2 438.5,605.5 445.4,597.7 452.2,589.9 459.1,582.0 465.9,574.0 472.8,565.9 479.6,557.8 486.5,549.6 493.3,541.3 500.2,532.9 507.0,524.5 513.9,516.0 520.7,507.4 527.6,498.8 527.6,509.5 520.7,516.8 513.9,524.2 507.0,531.7 500.2,539.2 493.3,546.8 486.5,554.5 479.6,562.3 472.8,570.1 465.9,578.0 459.1,586.0 452.2,594.0 445.4,602.1 438.5,610.3 431.7,618.6 424.8,627.0 418.0,635.4 411.1,643.9 404.3,652.5 397.4,661.1 390.6,669.8" fill="#aaa" fill-opacity="0.5"/>
<line x1="390.55" y1="663.79" x2="527.58" y2="504.15" stroke="#000" stroke-width="1.05"/>
<rect x="328.4" y="438.9" width="212.0" height="376.5" fill="none" stroke="#808080" stroke-width="0.8"/>
<line x1="328.4" x2="328.4" y1="438.9" y2="815.9" stroke="#858585" stroke-width="0.9"/>
<line x1="328.0" x2="540.4" y1="815.4" y2="815.4" stroke="#333" stroke-width="1"/>
<line x1="326.79999999999995" x2="328.4" y1="798.29" y2="798.29" stroke="#333" stroke-width="0.5"/>
<line x1="338.04" x2="338.04" y1="815.4" y2="817.0" stroke="#333" stroke-width="0.5"/>
<text x="326" y="801.09" text-anchor="end" font-size="8.3" font-weight="bold">-1.0</text>
<text x="338.24" y="824.0" text-anchor="middle" font-size="8.3" font-weight="bold">-1.0</text>
<line x1="326.79999999999995" x2="328.4" y1="712.72" y2="712.72" stroke="#333" stroke-width="0.5"/>
<line x1="386.22" x2="386.22" y1="815.4" y2="817.0" stroke="#333" stroke-width="0.5"/>
<text x="326" y="715.52" text-anchor="end" font-size="8.3" font-weight="bold">-0.5</text>
<text x="386.42" y="824.0" text-anchor="middle" font-size="8.3" font-weight="bold">-0.5</text>
<line x1="326.79999999999995" x2="328.4" y1="627.15" y2="627.15" stroke="#333" stroke-width="0.5"/>
<line x1="434.40" x2="434.40" y1="815.4" y2="817.0" stroke="#333" stroke-width="0.5"/>
<text x="326" y="629.95" text-anchor="end" font-size="8.3" font-weight="bold">0.0</text>
<text x="434.60" y="824.0" text-anchor="middle" font-size="8.3" font-weight="bold">0.0</text>
<line x1="326.79999999999995" x2="328.4" y1="541.58" y2="541.58" stroke="#333" stroke-width="0.5"/>
<line x1="482.58" x2="482.58" y1="815.4" y2="817.0" stroke="#333" stroke-width="0.5"/>
<text x="326" y="544.38" text-anchor="end" font-size="8.3" font-weight="bold">0.5</text>
<text x="482.78" y="824.0" text-anchor="middle" font-size="8.3" font-weight="bold">0.5</text>
<line x1="326.79999999999995" x2="328.4" y1="456.01" y2="456.01" stroke="#333" stroke-width="0.5"/>
<line x1="530.76" x2="530.76" y1="815.4" y2="817.0" stroke="#333" stroke-width="0.5"/>
<text x="326" y="458.81" text-anchor="end" font-size="8.3" font-weight="bold">1.0</text>
<text x="530.96" y="824.0" text-anchor="middle" font-size="8.3" font-weight="bold">1.0</text>
<text x="434.8" y="833.5" text-anchor="middle" font-size="9.8" font-weight="bold">Observated value</text>
<text transform="translate(309.2,627.0) rotate(-90)" text-anchor="middle" font-size="9.8" font-weight="bold">Predicted value</text>
<text x="339.7" y="465.8" font-size="9.3" fill="#1a1a1a" textLength="77" lengthAdjust="spacing" xml:space="preserve"><tspan font-style="italic">y</tspan> = 0.0844 + 0.656 <tspan font-style="italic">x</tspan></text>
<text x="424.3" y="465.8" font-size="9.3" fill="#1a1a1a" textLength="35.5" lengthAdjust="spacing" xml:space="preserve"><tspan font-style="italic">R</tspan><tspan font-size="6.8" dy="-4.2">2</tspan><tspan dy="4.2"> </tspan>= 0.71</text>
<text x="340.1" y="485.2" font-size="9.3" fill="#1a1a1a" textLength="75.2" lengthAdjust="spacing">RMSE=0.13, n=243</text>
</svg>
</body></html>
